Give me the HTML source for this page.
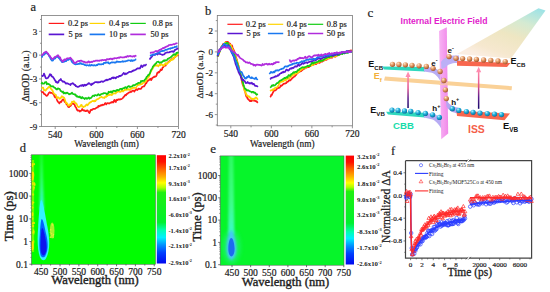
<!DOCTYPE html>
<html><head><meta charset="utf-8"><style>html,body{margin:0;padding:0;background:#fff;width:550px;height:292px;overflow:hidden}svg{display:block}</style></head><body>
<svg width="550" height="292" viewBox="0 0 550 292">
<defs>
<radialGradient id="ballO" cx="0.35" cy="0.3" r="0.75"><stop offset="0" stop-color="#fde6cc"/><stop offset="0.45" stop-color="#e59a66"/><stop offset="1" stop-color="#9c5026"/></radialGradient>
<radialGradient id="ballC" cx="0.35" cy="0.3" r="0.75"><stop offset="0" stop-color="#b8f0ff"/><stop offset="0.45" stop-color="#1fb0dc"/><stop offset="1" stop-color="#0a6a96"/></radialGradient>
<linearGradient id="arrowG" x1="0" y1="1" x2="0" y2="0"><stop offset="0" stop-color="#160a6a"/><stop offset="0.3" stop-color="#5a1c8c"/><stop offset="0.6" stop-color="#e0508e"/><stop offset="1" stop-color="#ff88a6"/></linearGradient>
<linearGradient id="beamG" x1="0.97" y1="0" x2="0.35" y2="1"><stop offset="0" stop-color="#98e2e8"/><stop offset="0.3" stop-color="#d4ead2"/><stop offset="0.55" stop-color="#eee6c2"/><stop offset="0.85" stop-color="#f6e8cf"/><stop offset="1" stop-color="#fbeee2"/></linearGradient>
<linearGradient id="planeG" x1="0" y1="0" x2="1" y2="0"><stop offset="0" stop-color="#f6aef2"/><stop offset="0.5" stop-color="#f496ee"/><stop offset="1" stop-color="#ee7ee6"/></linearGradient>
<linearGradient id="cbarD" x1="0" y1="0" x2="0" y2="1">
 <stop offset="0" stop-color="#ff0000"/><stop offset="0.06" stop-color="#ff1000"/><stop offset="0.14" stop-color="#ff7000"/><stop offset="0.2" stop-color="#ffb000"/><stop offset="0.255" stop-color="#ffff00"/><stop offset="0.3" stop-color="#b0ff00"/><stop offset="0.345" stop-color="#20f010"/><stop offset="0.62" stop-color="#00f030"/><stop offset="0.69" stop-color="#00ffb0"/><stop offset="0.76" stop-color="#00f0ff"/><stop offset="0.83" stop-color="#0090ff"/><stop offset="0.9" stop-color="#0040ff"/><stop offset="1" stop-color="#0008f0"/></linearGradient>
<linearGradient id="cbarE" x1="0" y1="0" x2="0" y2="1">
 <stop offset="0" stop-color="#ff0000"/><stop offset="0.06" stop-color="#ff1000"/><stop offset="0.12" stop-color="#ff6000"/><stop offset="0.19" stop-color="#ffb000"/><stop offset="0.25" stop-color="#ffff00"/><stop offset="0.29" stop-color="#b0ff00"/><stop offset="0.33" stop-color="#20f010"/><stop offset="0.62" stop-color="#00f030"/><stop offset="0.7" stop-color="#00ffb0"/><stop offset="0.76" stop-color="#00f0ff"/><stop offset="0.83" stop-color="#0090ff"/><stop offset="0.9" stop-color="#0040ff"/><stop offset="1" stop-color="#0008f0"/></linearGradient>
<linearGradient id="streakD" x1="0" y1="0" x2="0" y2="1"><stop offset="0" stop-color="#60ffa0" stop-opacity="0.35"/><stop offset="0.5" stop-color="#50ffc0" stop-opacity="0.6"/><stop offset="1" stop-color="#30f0f0" stop-opacity="1"/></linearGradient>
<linearGradient id="streakE" x1="0" y1="0" x2="0" y2="1"><stop offset="0" stop-color="#50ff90" stop-opacity="0.55"/><stop offset="0.6" stop-color="#50ffa8" stop-opacity="0.75"/><stop offset="1" stop-color="#40f8d8" stop-opacity="0.95"/></linearGradient>
<filter id="blur05" x="-50%" y="-50%" width="200%" height="200%"><feGaussianBlur stdDeviation="0.6"/></filter>
<filter id="blur1" x="-50%" y="-50%" width="200%" height="200%"><feGaussianBlur stdDeviation="1.2"/></filter>
<filter id="blur2" x="-50%" y="-50%" width="200%" height="200%"><feGaussianBlur stdDeviation="2"/></filter>
<filter id="blurB" x="-50%" y="-50%" width="200%" height="200%"><feGaussianBlur stdDeviation="3"/></filter>
</defs>
<rect width="550" height="292" fill="#fff"/>
<rect x="41.5" y="15.5" width="137.0" height="111.0" fill="none" stroke="#7a7a7a" stroke-width="0.8"/>
<line x1="55.20" y1="126.5" x2="55.20" y2="129.0" stroke="#7a7a7a" stroke-width="0.8"/>
<text x="55.2" y="137.8" font-size="9.5" text-anchor="middle" font-weight="normal" fill="#222" font-family='"Liberation Serif", serif'  stroke="#222" stroke-width="0.2">540</text>
<line x1="96.30" y1="126.5" x2="96.30" y2="129.0" stroke="#7a7a7a" stroke-width="0.8"/>
<text x="96.3" y="137.8" font-size="9.5" text-anchor="middle" font-weight="normal" fill="#222" font-family='"Liberation Serif", serif'  stroke="#222" stroke-width="0.2">600</text>
<line x1="137.40" y1="126.5" x2="137.40" y2="129.0" stroke="#7a7a7a" stroke-width="0.8"/>
<text x="137.4" y="137.8" font-size="9.5" text-anchor="middle" font-weight="normal" fill="#222" font-family='"Liberation Serif", serif'  stroke="#222" stroke-width="0.2">660</text>
<line x1="178.50" y1="126.5" x2="178.50" y2="129.0" stroke="#7a7a7a" stroke-width="0.8"/>
<text x="178.5" y="137.8" font-size="9.5" text-anchor="middle" font-weight="normal" fill="#222" font-family='"Liberation Serif", serif'  stroke="#222" stroke-width="0.2">720</text>
<line x1="75.75" y1="126.5" x2="75.75" y2="128.0" stroke="#7a7a7a" stroke-width="0.8"/>
<line x1="116.85" y1="126.5" x2="116.85" y2="128.0" stroke="#7a7a7a" stroke-width="0.8"/>
<line x1="157.95" y1="126.5" x2="157.95" y2="128.0" stroke="#7a7a7a" stroke-width="0.8"/>
<line x1="39.0" y1="31.36" x2="41.5" y2="31.36" stroke="#7a7a7a" stroke-width="0.8"/>
<text x="37.2" y="34.56" font-size="9" text-anchor="end" font-weight="normal" fill="#222" font-family='"Liberation Serif", serif'  stroke="#222" stroke-width="0.2">3</text>
<line x1="39.0" y1="55.14" x2="41.5" y2="55.14" stroke="#7a7a7a" stroke-width="0.8"/>
<text x="37.2" y="58.34" font-size="9" text-anchor="end" font-weight="normal" fill="#222" font-family='"Liberation Serif", serif'  stroke="#222" stroke-width="0.2">0</text>
<line x1="39.0" y1="78.93" x2="41.5" y2="78.93" stroke="#7a7a7a" stroke-width="0.8"/>
<text x="37.2" y="82.13" font-size="9" text-anchor="end" font-weight="normal" fill="#222" font-family='"Liberation Serif", serif'  stroke="#222" stroke-width="0.2">-3</text>
<line x1="39.0" y1="102.71" x2="41.5" y2="102.71" stroke="#7a7a7a" stroke-width="0.8"/>
<text x="37.2" y="105.91" font-size="9" text-anchor="end" font-weight="normal" fill="#222" font-family='"Liberation Serif", serif'  stroke="#222" stroke-width="0.2">-6</text>
<line x1="39.0" y1="126.50" x2="41.5" y2="126.50" stroke="#7a7a7a" stroke-width="0.8"/>
<text x="37.2" y="129.7" font-size="9" text-anchor="end" font-weight="normal" fill="#222" font-family='"Liberation Serif", serif'  stroke="#222" stroke-width="0.2">-9</text>
<line x1="40.0" y1="19.46" x2="41.5" y2="19.46" stroke="#7a7a7a" stroke-width="0.8"/>
<line x1="40.0" y1="43.25" x2="41.5" y2="43.25" stroke="#7a7a7a" stroke-width="0.8"/>
<line x1="40.0" y1="67.04" x2="41.5" y2="67.04" stroke="#7a7a7a" stroke-width="0.8"/>
<line x1="40.0" y1="90.82" x2="41.5" y2="90.82" stroke="#7a7a7a" stroke-width="0.8"/>
<line x1="40.0" y1="114.61" x2="41.5" y2="114.61" stroke="#7a7a7a" stroke-width="0.8"/>
<text x="106.5" y="147.2" font-size="9.3" text-anchor="middle" font-weight="normal" fill="#222" font-family='"Liberation Serif", serif'  stroke="#222" stroke-width="0.2">Wavelength (nm)</text>
<text x="0" y="0" font-size="9.8" text-anchor="middle" font-weight="normal" fill="#222" font-family='"Liberation Serif", serif' transform="translate(28.6,76.2) rotate(-90)" stroke="#222" stroke-width="0.2">&#916;mOD (a.u.)</text>
<text x="33.4" y="10.6" font-size="12.5" text-anchor="middle" font-weight="normal" fill="#222" font-family='"Liberation Serif", serif'  stroke="#222" stroke-width="0.2">a</text>
<line x1="48.7" y1="23.4" x2="64.2" y2="23.4" stroke="#ff1a1a" stroke-width="1.2"/>
<line x1="89.6" y1="23.4" x2="105.1" y2="23.4" stroke="#ffd400" stroke-width="1.2"/>
<line x1="130.3" y1="23.4" x2="145.8" y2="23.4" stroke="#12cc12" stroke-width="1.2"/>
<line x1="48.7" y1="34.4" x2="64.2" y2="34.4" stroke="#5a16d2" stroke-width="1.7"/>
<line x1="89.6" y1="34.4" x2="105.1" y2="34.4" stroke="#1a78f0" stroke-width="1.7"/>
<line x1="130.3" y1="34.4" x2="145.8" y2="34.4" stroke="#b02cdc" stroke-width="1.7"/>
<text x="68" y="26.3" font-size="8.4" text-anchor="start" font-weight="normal" fill="#222" font-family='"Liberation Serif", serif'  stroke="#222" stroke-width="0.2">0.2 ps</text>
<text x="109" y="26.3" font-size="8.4" text-anchor="start" font-weight="normal" fill="#222" font-family='"Liberation Serif", serif'  stroke="#222" stroke-width="0.2">0.4 ps</text>
<text x="152.5" y="26.3" font-size="8.4" text-anchor="start" font-weight="normal" fill="#222" font-family='"Liberation Serif", serif'  stroke="#222" stroke-width="0.2">0.8 ps</text>
<text x="68.5" y="37.3" font-size="8.4" text-anchor="start" font-weight="normal" fill="#222" font-family='"Liberation Serif", serif'  stroke="#222" stroke-width="0.2">5 ps</text>
<text x="109" y="37.3" font-size="8.4" text-anchor="start" font-weight="normal" fill="#222" font-family='"Liberation Serif", serif'  stroke="#222" stroke-width="0.2">10 ps</text>
<text x="150.5" y="37.3" font-size="8.4" text-anchor="start" font-weight="normal" fill="#222" font-family='"Liberation Serif", serif'  stroke="#222" stroke-width="0.2">50 ps</text>
<path d="M41.40,91.27 L42.00,92.08 L42.60,92.27 L43.20,92.19 L43.80,93.69 L44.40,94.09 L45.00,94.13 L45.60,95.05 L46.20,95.53 L46.80,95.92 L47.40,95.26 L48.00,94.58 L48.60,93.25 L49.20,92.60 L49.80,92.17 L50.40,92.86 L51.00,92.87 L51.60,92.83 L52.20,92.97 L52.80,93.61 L53.40,94.15 L54.00,94.92 L54.60,96.70 L55.20,97.34 L55.80,96.48 L56.40,97.85 L57.00,99.99 L57.60,101.29 L58.20,102.12 L58.80,102.61 L59.40,103.44 L60.00,102.09 L60.60,101.62 L61.20,102.07 L61.80,100.85 L62.40,99.81 L63.00,99.30 L63.60,99.51 L64.20,101.05 L64.80,101.91 L65.40,102.20 L66.00,103.34 L66.60,104.41 L67.20,104.87 L67.80,105.99 L68.40,106.94 L69.00,107.15 L69.60,106.31 L70.20,106.19 L70.80,105.68 L71.40,104.51 L72.00,103.25 L72.60,103.67 L73.20,103.55 L73.80,104.12 L74.40,103.87 L75.00,105.96 L75.60,106.94 L76.20,107.67 L76.80,109.44 L77.40,110.42 L78.00,110.74 L78.60,110.39 L79.20,110.63 L79.80,111.53 L80.40,110.94 L81.00,110.82 L81.60,110.44 L82.20,108.98 L82.80,109.75 L83.40,110.64 L84.00,110.23 L84.60,110.30 L85.20,111.19 L85.80,111.05 L86.40,111.07 L87.00,110.35 L87.60,110.34 L88.20,111.47 L88.80,112.16 L89.40,113.04 L90.00,111.86 L90.60,110.08 L91.20,109.53 L91.80,110.03 L92.40,109.77 L93.00,108.89 L93.60,108.89 L94.20,108.96 L94.80,108.83 L95.40,108.74 L96.00,108.18 L96.60,107.66 L97.20,107.43 L97.80,107.49 L98.40,105.89 L99.00,106.40 L99.60,106.26 L100.20,105.35 L100.80,105.63 L101.40,105.12 L102.00,105.33 L102.60,104.71 L103.20,104.75 L103.80,104.91 L104.40,104.27 L105.00,103.32 L105.60,103.09 L106.20,104.40 L106.80,103.60 L107.40,103.07 L108.00,103.30 L108.60,103.22 L109.20,103.53 L109.80,103.11 L110.40,102.82 L111.00,102.44 L111.60,102.56 L112.20,101.84 L112.80,102.40 L113.40,102.45 L114.00,100.59 L114.60,99.85 L115.20,101.34 L115.80,102.07 L116.40,100.17 L117.00,99.61 L117.60,100.16 L118.20,99.42 L118.80,99.26 L119.40,99.35 L120.00,99.60 L120.60,99.16 L121.20,99.23 L121.80,98.87 L122.40,98.40 L123.00,97.82 L123.60,96.95 L124.20,96.55 L124.80,95.36 L125.40,94.83 L126.00,95.29 L126.60,94.24 L127.20,93.76 L127.80,93.58 L128.40,92.81 L129.00,92.50 L129.60,92.48 L130.20,92.02 L130.80,91.32 L131.40,91.90 L132.00,91.18 L132.60,90.65 L133.20,90.60 L133.80,90.96 L134.40,91.62 L135.00,90.38 L135.60,90.21 L136.20,89.10 L136.80,89.76 L137.40,90.05 L138.00,89.21 L138.60,88.67 L139.20,88.83 L139.80,88.87 L140.40,88.75 L141.00,88.93 L141.60,87.77 L142.20,86.90 L142.80,86.76 L143.40,86.56 L144.00,86.35 L144.60,85.63 L145.20,84.63 L145.80,83.09 L146.40,83.15 L147.00,81.75 L147.60,80.60 L148.20,80.68 L148.80,80.27 L149.40,79.59 L150.00,79.04 L150.60,78.70 L151.20,80.19 L151.80,79.18 L152.40,77.67 L153.00,77.44 L153.60,77.46 L154.20,76.60 L154.80,76.96 L155.40,76.41 L156.00,76.44 L156.60,75.33 L157.20,72.92 L157.80,73.01 L158.40,72.01 L159.00,72.42 L159.60,71.54 L160.20,70.71 L160.80,69.50 L161.40,70.17 L162.00,69.65 L162.60,67.61 L163.20,67.30 L163.80,66.39 L164.40,65.87 L165.00,65.04 L165.60,65.63 L166.20,63.97 L166.80,63.49 L167.40,63.26 L168.00,62.28 L168.60,61.82 L169.20,61.24 L169.80,60.80 L170.40,59.88 L171.00,59.66 L171.60,59.34 L172.20,58.87 L172.80,58.62 L173.40,58.19 L174.00,58.17 L174.60,57.34 L175.20,56.85 L175.80,56.20 L176.40,55.73 L177.00,55.15 L177.60,55.41 L178.20,54.46" fill="none" stroke="#ff1a1a" stroke-width="1.7" stroke-linejoin="round" opacity="1"/>
<path d="M41.40,87.54 L42.00,87.62 L42.60,87.79 L43.20,87.63 L43.80,89.97 L44.40,90.33 L45.00,90.01 L45.60,90.60 L46.20,89.74 L46.80,88.79 L47.40,88.72 L48.00,87.80 L48.60,87.22 L49.20,86.75 L49.80,87.30 L50.40,87.99 L51.00,88.91 L51.60,89.23 L52.20,90.35 L52.80,91.11 L53.40,92.85 L54.00,93.53 L54.60,94.14 L55.20,94.64 L55.80,94.70 L56.40,96.65 L57.00,98.12 L57.60,97.34 L58.20,97.24 L58.80,97.61 L59.40,98.79 L60.00,98.65 L60.60,98.22 L61.20,97.27 L61.80,96.16 L62.40,96.43 L63.00,96.89 L63.60,97.73 L64.20,97.71 L64.80,99.31 L65.40,101.28 L66.00,103.26 L66.60,102.98 L67.20,103.42 L67.80,104.67 L68.40,105.72 L69.00,105.23 L69.60,105.36 L70.20,103.99 L70.80,104.39 L71.40,103.59 L72.00,101.66 L72.60,101.79 L73.20,102.00 L73.80,101.23 L74.40,101.56 L75.00,103.12 L75.60,103.08 L76.20,103.47 L76.80,104.32 L77.40,105.93 L78.00,106.67 L78.60,107.18 L79.20,107.03 L79.80,106.96 L80.40,105.81 L81.00,105.00 L81.60,104.84 L82.20,106.61 L82.80,106.68 L83.40,107.22 L84.00,106.59 L84.60,106.26 L85.20,106.31 L85.80,105.58 L86.40,104.50 L87.00,104.41 L87.60,105.24 L88.20,104.36 L88.80,103.71 L89.40,102.86 L90.00,102.30 L90.60,102.53 L91.20,101.83 L91.80,101.25 L92.40,101.22 L93.00,100.81 L93.60,101.21 L94.20,101.41 L94.80,100.54 L95.40,101.08 L96.00,100.01 L96.60,99.79 L97.20,99.11 L97.80,99.04 L98.40,98.89 L99.00,98.32 L99.60,97.81 L100.20,97.51 L100.80,97.16 L101.40,96.71 L102.00,97.19 L102.60,97.55 L103.20,97.67 L103.80,97.61 L104.40,98.09 L105.00,96.89 L105.60,96.31 L106.20,96.92 L106.80,95.68 L107.40,96.00 L108.00,95.17 L108.60,95.19 L109.20,94.24 L109.80,95.16 L110.40,94.63 L111.00,94.18 L111.60,95.18 L112.20,94.71 L112.80,93.93 L113.40,93.31 L114.00,93.37 L114.60,93.29 L115.20,93.56 L115.80,93.34 L116.40,92.39 L117.00,92.10 L117.60,91.83 L118.20,91.30 L118.80,91.46 L119.40,91.68 L120.00,92.01 L120.60,91.98 L121.20,90.88 L121.80,91.04 L122.40,90.74 L123.00,91.50 L123.60,90.60 L124.20,90.40 L124.80,89.63 L125.40,89.56 L126.00,89.95 L126.60,89.74 L127.20,89.76 L127.80,88.99 L128.40,89.60 L129.00,89.16 L129.60,89.97 L130.20,89.20 L130.80,89.25 L131.40,88.14 L132.00,88.50 L132.60,87.89 L133.20,87.85 L133.80,87.96 L134.40,87.73 L135.00,87.89 L135.60,87.80 L136.20,87.33 L136.80,86.40 L137.40,85.32 L138.00,85.15 L138.60,84.92 L139.20,83.91 L139.80,84.73 L140.40,84.23 L141.00,83.95 L141.60,84.24 L142.20,83.88 L142.80,83.18 L143.40,82.33 L144.00,82.59 L144.60,82.12 L145.20,81.09 L145.80,81.31 L146.40,80.36 L147.00,78.64 L147.60,78.40 L148.20,76.98 L148.80,76.85 L149.40,75.53 L150.00,73.31 L150.60,72.05 L151.20,71.15 L151.80,69.87 L152.40,69.26 L153.00,67.93 L153.60,66.80 L154.20,66.24 L154.80,64.63 L155.40,65.43 L156.00,65.87 L156.60,65.32 L157.20,65.07 L157.80,65.84 L158.40,66.44 L159.00,65.37 L159.60,64.61 L160.20,65.28 L160.80,63.94 L161.40,64.64 L162.00,64.66 L162.60,65.29 L163.20,64.92 L163.80,65.90 L164.40,65.44 L165.00,63.79 L165.60,63.17 L166.20,63.75 L166.80,64.20 L167.40,63.32 L168.00,62.61 L168.60,62.05 L169.20,61.98 L169.80,61.38 L170.40,60.64 L171.00,59.70 L171.60,60.21 L172.20,59.76 L172.80,58.34 L173.40,59.31 L174.00,58.31 L174.60,56.89 L175.20,55.86 L175.80,56.59 L176.40,56.25 L177.00,55.06 L177.60,54.18 L178.20,55.01" fill="none" stroke="#ffd400" stroke-width="1.7" stroke-linejoin="round" opacity="1"/>
<path d="M41.40,84.13 L42.00,82.56 L42.60,83.59 L43.20,83.58 L43.80,83.72 L44.40,83.45 L45.00,82.21 L45.60,82.25 L46.20,82.00 L46.80,84.26 L47.40,83.72 L48.00,83.72 L48.60,84.15 L49.20,84.38 L49.80,84.67 L50.40,85.50 L51.00,86.37 L51.60,86.23 L52.20,86.62 L52.80,86.21 L53.40,86.35 L54.00,87.40 L54.60,87.73 L55.20,87.92 L55.80,88.81 L56.40,89.19 L57.00,89.57 L57.60,88.48 L58.20,88.24 L58.80,88.87 L59.40,88.74 L60.00,89.56 L60.60,90.76 L61.20,91.29 L61.80,91.68 L62.40,92.14 L63.00,91.49 L63.60,93.40 L64.20,93.11 L64.80,92.60 L65.40,93.37 L66.00,93.51 L66.60,92.77 L67.20,92.55 L67.80,93.17 L68.40,93.55 L69.00,94.34 L69.60,94.21 L70.20,93.81 L70.80,93.91 L71.40,93.13 L72.00,92.64 L72.60,93.55 L73.20,94.07 L73.80,94.07 L74.40,94.27 L75.00,94.87 L75.60,94.42 L76.20,96.12 L76.80,96.57 L77.40,96.13 L78.00,96.92 L78.60,96.89 L79.20,97.46 L79.80,96.51 L80.40,97.05 L81.00,98.13 L81.60,98.29 L82.20,97.00 L82.80,97.66 L83.40,98.25 L84.00,98.22 L84.60,99.02 L85.20,98.10 L85.80,98.36 L86.40,98.04 L87.00,98.89 L87.60,98.36 L88.20,97.84 L88.80,97.44 L89.40,98.77 L90.00,98.37 L90.60,98.02 L91.20,97.82 L91.80,97.07 L92.40,96.19 L93.00,95.71 L93.60,95.62 L94.20,96.19 L94.80,95.03 L95.40,95.09 L96.00,95.28 L96.60,95.53 L97.20,95.47 L97.80,94.47 L98.40,94.14 L99.00,94.87 L99.60,95.39 L100.20,95.03 L100.80,94.45 L101.40,93.99 L102.00,93.97 L102.60,93.67 L103.20,93.77 L103.80,93.09 L104.40,93.25 L105.00,93.19 L105.60,93.35 L106.20,93.41 L106.80,94.30 L107.40,93.93 L108.00,93.35 L108.60,91.70 L109.20,92.04 L109.80,92.12 L110.40,92.26 L111.00,91.28 L111.60,92.57 L112.20,92.54 L112.80,91.17 L113.40,90.80 L114.00,90.71 L114.60,90.90 L115.20,91.13 L115.80,91.35 L116.40,90.20 L117.00,90.07 L117.60,89.94 L118.20,90.45 L118.80,90.09 L119.40,89.93 L120.00,88.78 L120.60,88.79 L121.20,88.72 L121.80,89.59 L122.40,89.10 L123.00,88.32 L123.60,88.04 L124.20,88.15 L124.80,87.43 L125.40,87.13 L126.00,87.80 L126.60,88.47 L127.20,87.21 L127.80,86.60 L128.40,86.13 L129.00,86.07 L129.60,86.88 L130.20,87.02 L130.80,86.54 L131.40,86.44 L132.00,86.23 L132.60,85.90 L133.20,85.05 L133.80,85.31 L134.40,85.47 L135.00,84.98 L135.60,84.55 L136.20,84.02 L136.80,83.90 L137.40,83.96 L138.00,83.05 L138.60,82.83 L139.20,83.02 L139.80,82.86 L140.40,82.67 L141.00,80.94 L141.60,81.54 L142.20,80.93 L142.80,80.85 L143.40,80.97 L144.00,80.83 L144.60,80.15 L145.20,79.13 L145.80,78.81 L146.40,77.32 L147.00,76.55 L147.60,76.07 L148.20,74.91 L148.80,75.08 L149.40,74.04 L150.00,73.36 L150.60,71.37 L151.20,69.79 L151.80,68.86 L152.40,67.83 L153.00,66.34 L153.60,65.85 L154.20,65.14 L154.80,64.88 L155.40,63.58 L156.00,63.58 L156.60,62.48 L157.20,61.76 L157.80,61.73 L158.40,61.66 L159.00,62.36 L159.60,62.84 L160.20,62.40 L160.80,62.46 L161.40,62.68 L162.00,61.92 L162.60,61.54 L163.20,61.00 L163.80,60.38 L164.40,60.98 L165.00,60.09 L165.60,60.58 L166.20,60.27 L166.80,60.28 L167.40,59.38 L168.00,58.66 L168.60,58.71 L169.20,58.04 L169.80,57.75 L170.40,57.48 L171.00,57.00 L171.60,56.49 L172.20,55.83 L172.80,55.47 L173.40,54.38 L174.00,54.66 L174.60,54.23 L175.20,54.90 L175.80,54.51 L176.40,52.79 L177.00,53.08 L177.60,52.70 L178.20,51.96" fill="none" stroke="#12cc12" stroke-width="1.7" stroke-linejoin="round" opacity="1"/>
<path d="M41.60,75.96 L42.20,75.82 L42.80,76.16 L43.40,75.11 L44.00,73.55 L44.60,75.20 L45.20,76.63 L45.80,78.25 L46.40,78.40 L47.00,78.36 L47.60,77.93 L48.20,77.69 L48.80,76.48 L49.40,75.47 L50.00,74.14 L50.60,75.33 L51.20,74.76 L51.80,76.41 L52.40,76.72 L53.00,77.09 L53.60,77.90 L54.20,78.79 L54.80,80.03 L55.40,80.86 L56.00,82.04 L56.60,81.57 L57.20,82.82 L57.80,82.73 L58.40,82.33 L59.00,80.46 L59.60,80.26 L60.20,79.72 L60.80,79.02 L61.40,80.41 L62.00,80.80 L62.60,81.56 L63.20,81.87 L63.80,81.37 L64.40,81.76 L65.00,82.54 L65.60,83.37 L66.20,83.65 L66.80,83.20 L67.40,83.36 L68.00,83.59 L68.60,84.01 L69.20,84.21 L69.80,84.38 L70.40,85.05 L71.00,83.90 L71.60,83.67 L72.20,83.77 L72.80,83.07 L73.40,83.60 L74.00,84.38 L74.60,85.03 L75.20,84.82 L75.80,86.19 L76.40,86.14 L77.00,86.73 L77.60,86.94 L78.20,86.80 L78.80,86.73 L79.40,86.15 L80.00,85.84 L80.60,85.74 L81.20,85.26 L81.80,85.90 L82.40,85.00 L83.00,84.80 L83.60,86.03 L84.20,85.09 L84.80,84.57 L85.40,85.63 L86.00,84.94 L86.60,85.10 L87.20,84.29 L87.80,84.14 L88.40,83.38 L89.00,83.13 L89.60,83.56 L90.20,84.09 L90.80,84.68 L91.40,85.10 L92.00,83.69 L92.60,84.05 L93.20,83.42 L93.80,83.22 L94.40,82.43 L95.00,82.16 L95.60,82.25 L96.20,82.03 L96.80,82.29 L97.40,82.07 L98.00,82.63 L98.60,82.11 L99.20,82.01 L99.80,82.33 L100.40,81.98 L101.00,81.55 L101.60,81.37 L102.20,81.38 L102.80,81.84 L103.40,81.63 L104.00,81.24 L104.60,81.06 L105.20,80.36 L105.80,80.33 L106.40,79.58 L107.00,80.39 L107.60,79.87 L108.20,79.63 L108.80,79.59 L109.40,79.11 L110.00,78.88 L110.60,79.26 L111.20,78.58 L111.80,77.91 L112.40,78.04 L113.00,77.28 L113.60,78.30 L114.20,77.57 L114.80,77.51 L115.40,78.39 L116.00,78.15 L116.60,76.99 L117.20,76.87 L117.80,77.02 L118.40,76.98 L119.00,75.99 L119.60,75.85 L120.20,76.12 L120.80,75.63 L121.40,75.56 L122.00,75.15 L122.60,74.10 L123.20,73.66 L123.80,72.86 L124.40,73.79 L125.00,74.36 L125.60,73.37 L126.20,74.02 L126.80,73.81 L127.40,73.05 L128.00,72.75 L128.60,72.47 L129.20,71.86 L129.80,71.84 L130.40,71.85 L131.00,71.98 L131.60,71.73 L132.20,70.93 L132.80,71.12 L133.40,70.33 L134.00,70.27 L134.60,70.32 L135.20,69.91 L135.80,69.56 L136.40,69.36 L137.00,68.69 L137.60,68.30 L138.20,68.33 L138.80,68.54 L139.40,68.05 L140.00,68.45 L140.60,67.19 L141.20,65.42 L141.80,66.25 L142.40,67.07 L143.00,66.13 L143.60,65.39 L144.20,65.06 L144.80,65.69 L145.40,65.35 L146.00,64.75 L146.60,64.18" fill="none" stroke="#5a16d2" stroke-width="1.7" stroke-linejoin="round" opacity="1"/>
<path d="M149.60,59.62 L150.20,58.47 L150.80,57.86 L151.40,57.24 L152.00,56.54 L152.60,55.58 L153.20,54.66 L153.80,54.29 L154.40,54.79 L155.00,55.02 L155.60,54.41 L156.20,53.71 L156.80,53.79 L157.40,54.51 L158.00,53.98 L158.60,53.42 L159.20,53.91 L159.80,53.83 L160.40,54.08 L161.00,54.29 L161.60,54.46 L162.20,54.98 L162.80,54.95 L163.40,54.49 L164.00,54.44 L164.60,54.08 L165.20,52.96 L165.80,52.81 L166.40,52.60 L167.00,52.62 L167.60,52.26 L168.20,52.51 L168.80,52.44 L169.40,52.16 L170.00,51.81 L170.60,51.80 L171.20,51.46 L171.80,51.31 L172.40,51.62 L173.00,51.32 L173.60,51.81 L174.20,51.19 L174.80,49.95 L175.40,50.01 L176.00,49.36 L176.60,49.23 L177.20,48.74 L177.80,47.75" fill="none" stroke="#5a16d2" stroke-width="1.7" stroke-linejoin="round" opacity="1"/>
<path d="M41.50,57.50 L42.10,56.87 L42.70,54.95 L43.30,54.92 L43.90,54.89 L44.50,54.41 L45.10,53.61 L45.70,53.13 L46.30,52.39 L46.90,53.20 L47.50,53.83 L48.10,54.22 L48.70,55.14 L49.30,56.35 L49.90,57.08 L50.50,58.49 L51.10,59.51 L51.70,60.39 L52.30,60.73 L52.90,60.48 L53.50,59.35 L54.10,58.84 L54.70,58.74 L55.30,58.30 L55.90,57.21 L56.50,56.75 L57.10,56.94 L57.70,56.39 L58.30,57.51 L58.90,58.13 L59.50,58.78 L60.10,59.54 L60.70,60.44 L61.30,60.97 L61.90,61.95 L62.50,62.26 L63.10,62.06 L63.70,61.70 L64.30,61.74 L64.90,61.25 L65.50,60.78 L66.10,61.22 L66.70,60.30 L67.30,59.92 L67.90,59.90 L68.50,59.94 L69.10,59.12 L69.70,58.90 L70.30,58.92 L70.90,59.38 L71.50,60.96 L72.10,62.00 L72.70,62.48 L73.30,63.24 L73.90,63.62 L74.50,63.95 L75.10,64.28 L75.70,64.49 L76.30,64.10 L76.90,64.19 L77.50,64.27 L78.10,63.91 L78.70,63.93 L79.30,63.93 L79.90,63.05 L80.50,63.51 L81.10,63.13 L81.70,63.95 L82.30,64.21 L82.90,64.11 L83.50,64.16 L84.10,64.67 L84.70,64.88 L85.30,65.18 L85.90,65.19 L86.50,65.53 L87.10,65.13 L87.70,65.25 L88.30,65.38 L88.90,65.74 L89.50,64.96 L90.10,65.24 L90.70,65.73 L91.30,65.15 L91.90,64.91 L92.50,65.34 L93.10,65.32 L93.70,65.53 L94.30,65.07 L94.90,65.35 L95.50,65.54 L96.10,65.43 L96.70,64.79 L97.30,65.23 L97.90,64.46 L98.50,64.00 L99.10,64.13 L99.70,64.41 L100.30,64.28 L100.90,64.41 L101.50,64.36 L102.10,64.15 L102.70,63.98 L103.30,64.26 L103.90,62.93 L104.50,62.78 L105.10,63.09 L105.70,62.74 L106.30,62.29 L106.90,62.74 L107.50,62.68 L108.10,62.27 L108.70,63.26 L109.30,63.58 L109.90,63.38 L110.50,62.74 L111.10,62.67 L111.70,62.30 L112.30,62.53 L112.90,62.33 L113.50,62.51 L114.10,62.36 L114.70,62.70 L115.30,62.68 L115.90,62.52 L116.50,61.47 L117.10,61.27 L117.70,61.88 L118.30,61.70 L118.90,61.89 L119.50,61.84 L120.10,61.77 L120.70,61.92 L121.30,61.77 L121.90,61.53 L122.50,61.17 L123.10,61.79 L123.70,61.42 L124.30,61.51 L124.90,61.31 L125.50,61.43 L126.10,61.06 L126.70,60.94 L127.30,60.80 L127.90,60.45 L128.50,60.41 L129.10,60.51 L129.70,60.44 L130.30,60.33 L130.90,61.13 L131.50,60.20 L132.10,60.34 L132.70,61.07 L133.30,60.24 L133.90,60.44 L134.50,60.39 L135.10,59.93 L135.70,59.37 L136.30,59.30" fill="none" stroke="#1a78f0" stroke-width="1.7" stroke-linejoin="round" opacity="1"/>
<path d="M149.90,55.82 L150.50,55.69 L151.10,55.34 L151.70,54.98 L152.30,54.86 L152.90,54.62 L153.50,54.79 L154.10,54.92 L154.70,54.31 L155.30,53.99 L155.90,54.04 L156.50,53.82 L157.10,53.44 L157.70,52.95 L158.30,52.95 L158.90,52.84 L159.50,52.13 L160.10,51.93 L160.70,51.38 L161.30,51.19 L161.90,50.95 L162.50,51.09 L163.10,50.78 L163.70,50.93 L164.30,50.76 L164.90,50.30 L165.50,49.54 L166.10,49.77 L166.70,49.82 L167.30,49.58 L167.90,48.98 L168.50,48.94 L169.10,48.66 L169.70,48.57 L170.30,48.78 L170.90,48.21 L171.50,48.17 L172.10,48.21 L172.70,47.70 L173.30,47.57 L173.90,47.48 L174.50,47.22 L175.10,46.75 L175.70,46.93 L176.30,47.01 L176.90,46.23 L177.50,46.50" fill="none" stroke="#1a78f0" stroke-width="1.7" stroke-linejoin="round" opacity="1"/>
<path d="M41.50,55.69 L42.10,55.01 L42.70,54.42 L43.30,53.93 L43.90,52.79 L44.50,52.64 L45.10,51.98 L45.70,51.89 L46.30,51.64 L46.90,52.56 L47.50,53.12 L48.10,53.66 L48.70,54.77 L49.30,55.71 L49.90,55.90 L50.50,56.94 L51.10,57.73 L51.70,58.83 L52.30,58.99 L52.90,58.63 L53.50,58.47 L54.10,57.92 L54.70,56.97 L55.30,57.07 L55.90,56.61 L56.50,56.12 L57.10,55.74 L57.70,55.30 L58.30,55.41 L58.90,56.99 L59.50,57.04 L60.10,57.27 L60.70,58.78 L61.30,60.07 L61.90,60.38 L62.50,61.70 L63.10,61.55 L63.70,60.28 L64.30,59.33 L64.90,59.52 L65.50,60.01 L66.10,59.14 L66.70,58.46 L67.30,58.27 L67.90,58.45 L68.50,58.31 L69.10,58.33 L69.70,57.99 L70.30,57.60 L70.90,58.38 L71.50,58.92 L72.10,59.90 L72.70,60.29 L73.30,61.16 L73.90,62.89 L74.50,62.71 L75.10,62.69 L75.70,63.05 L76.30,62.30 L76.90,61.65 L77.50,61.36 L78.10,61.01 L78.70,61.27 L79.30,60.85 L79.90,61.10 L80.50,60.63 L81.10,60.63 L81.70,60.86 L82.30,61.35 L82.90,61.54 L83.50,61.94 L84.10,61.59 L84.70,62.04 L85.30,62.68 L85.90,62.27 L86.50,62.43 L87.10,62.71 L87.70,62.28 L88.30,61.61 L88.90,61.29 L89.50,62.53 L90.10,62.17 L90.70,62.12 L91.30,61.68 L91.90,62.18 L92.50,61.80 L93.10,61.40 L93.70,61.06 L94.30,61.30 L94.90,61.05 L95.50,60.90 L96.10,60.45 L96.70,60.71 L97.30,60.85 L97.90,60.43 L98.50,60.76 L99.10,60.92 L99.70,60.53 L100.30,60.28 L100.90,60.30 L101.50,60.59 L102.10,59.86 L102.70,60.02 L103.30,60.05 L103.90,60.15 L104.50,59.96 L105.10,59.74 L105.70,60.52 L106.30,59.88 L106.90,59.13 L107.50,59.14 L108.10,59.45 L108.70,59.45 L109.30,58.85 L109.90,59.16 L110.50,58.52 L111.10,58.58 L111.70,59.15 L112.30,59.33 L112.90,58.65 L113.50,58.44 L114.10,58.69 L114.70,57.99 L115.30,58.17 L115.90,58.23 L116.50,58.38 L117.10,58.07 L117.70,57.82 L118.30,57.89 L118.90,57.42 L119.50,57.79 L120.10,57.32 L120.70,57.10 L121.30,57.23 L121.90,57.40 L122.50,57.53 L123.10,57.25 L123.70,57.47 L124.30,57.47 L124.90,56.97 L125.50,56.67 L126.10,57.16 L126.70,56.83 L127.30,55.97 L127.90,56.21 L128.50,56.52 L129.10,56.06 L129.70,56.05 L130.30,55.84 L130.90,56.43 L131.50,56.47 L132.10,56.47 L132.70,56.71 L133.30,56.12 L133.90,56.12 L134.50,56.62 L135.10,55.72 L135.70,55.97 L136.30,55.45" fill="none" stroke="#b02cdc" stroke-width="1.7" stroke-linejoin="round" opacity="1"/>
<path d="M149.90,52.89 L150.50,52.85 L151.10,52.35 L151.70,52.75 L152.30,52.76 L152.90,52.23 L153.50,52.20 L154.10,52.00 L154.70,51.61 L155.30,51.20 L155.90,50.88 L156.50,51.52 L157.10,51.31 L157.70,51.60 L158.30,50.95 L158.90,50.34 L159.50,49.87 L160.10,49.97 L160.70,49.39 L161.30,49.44 L161.90,48.74 L162.50,48.39 L163.10,47.88 L163.70,48.41 L164.30,47.65 L164.90,47.25 L165.50,47.22 L166.10,46.67 L166.70,46.68 L167.30,46.09 L167.90,46.12 L168.50,45.49 L169.10,45.00 L169.70,45.00 L170.30,44.71 L170.90,44.95 L171.50,44.78 L172.10,44.72 L172.70,44.46 L173.30,44.20 L173.90,44.20 L174.50,44.30 L175.10,43.84 L175.70,43.45 L176.30,43.26 L176.90,43.29 L177.50,43.09" fill="none" stroke="#b02cdc" stroke-width="1.7" stroke-linejoin="round" opacity="1"/>
<rect x="217.3" y="15.4" width="135.09999999999997" height="110.39999999999999" fill="none" stroke="#7a7a7a" stroke-width="0.8"/>
<line x1="230.81" y1="125.8" x2="230.81" y2="128.3" stroke="#7a7a7a" stroke-width="0.8"/>
<text x="230.81" y="137.1" font-size="9.5" text-anchor="middle" font-weight="normal" fill="#222" font-family='"Liberation Serif", serif'  stroke="#222" stroke-width="0.2">540</text>
<line x1="271.34" y1="125.8" x2="271.34" y2="128.3" stroke="#7a7a7a" stroke-width="0.8"/>
<text x="271.34" y="137.1" font-size="9.5" text-anchor="middle" font-weight="normal" fill="#222" font-family='"Liberation Serif", serif'  stroke="#222" stroke-width="0.2">600</text>
<line x1="311.87" y1="125.8" x2="311.87" y2="128.3" stroke="#7a7a7a" stroke-width="0.8"/>
<text x="311.87" y="137.1" font-size="9.5" text-anchor="middle" font-weight="normal" fill="#222" font-family='"Liberation Serif", serif'  stroke="#222" stroke-width="0.2">660</text>
<line x1="352.40" y1="125.8" x2="352.40" y2="128.3" stroke="#7a7a7a" stroke-width="0.8"/>
<text x="352.4" y="137.1" font-size="9.5" text-anchor="middle" font-weight="normal" fill="#222" font-family='"Liberation Serif", serif'  stroke="#222" stroke-width="0.2">720</text>
<line x1="251.07" y1="125.8" x2="251.07" y2="127.3" stroke="#7a7a7a" stroke-width="0.8"/>
<line x1="291.61" y1="125.8" x2="291.61" y2="127.3" stroke="#7a7a7a" stroke-width="0.8"/>
<line x1="332.13" y1="125.8" x2="332.13" y2="127.3" stroke="#7a7a7a" stroke-width="0.8"/>
<line x1="214.8" y1="31.00" x2="217.3" y2="31.00" stroke="#7a7a7a" stroke-width="0.8"/>
<text x="213" y="34.2" font-size="9" text-anchor="end" font-weight="normal" fill="#222" font-family='"Liberation Serif", serif'  stroke="#222" stroke-width="0.2">2</text>
<line x1="214.8" y1="51.90" x2="217.3" y2="51.90" stroke="#7a7a7a" stroke-width="0.8"/>
<text x="213" y="55.1" font-size="9" text-anchor="end" font-weight="normal" fill="#222" font-family='"Liberation Serif", serif'  stroke="#222" stroke-width="0.2">0</text>
<line x1="214.8" y1="72.80" x2="217.3" y2="72.80" stroke="#7a7a7a" stroke-width="0.8"/>
<text x="213" y="76.0" font-size="9" text-anchor="end" font-weight="normal" fill="#222" font-family='"Liberation Serif", serif'  stroke="#222" stroke-width="0.2">-2</text>
<line x1="214.8" y1="93.70" x2="217.3" y2="93.70" stroke="#7a7a7a" stroke-width="0.8"/>
<text x="213" y="96.9" font-size="9" text-anchor="end" font-weight="normal" fill="#222" font-family='"Liberation Serif", serif'  stroke="#222" stroke-width="0.2">-4</text>
<line x1="214.8" y1="114.60" x2="217.3" y2="114.60" stroke="#7a7a7a" stroke-width="0.8"/>
<text x="213" y="117.8" font-size="9" text-anchor="end" font-weight="normal" fill="#222" font-family='"Liberation Serif", serif'  stroke="#222" stroke-width="0.2">-6</text>
<line x1="215.8" y1="20.55" x2="217.3" y2="20.55" stroke="#7a7a7a" stroke-width="0.8"/>
<line x1="215.8" y1="41.45" x2="217.3" y2="41.45" stroke="#7a7a7a" stroke-width="0.8"/>
<line x1="215.8" y1="62.35" x2="217.3" y2="62.35" stroke="#7a7a7a" stroke-width="0.8"/>
<line x1="215.8" y1="83.25" x2="217.3" y2="83.25" stroke="#7a7a7a" stroke-width="0.8"/>
<line x1="215.8" y1="104.15" x2="217.3" y2="104.15" stroke="#7a7a7a" stroke-width="0.8"/>
<line x1="215.8" y1="125.05" x2="217.3" y2="125.05" stroke="#7a7a7a" stroke-width="0.8"/>
<text x="282.3" y="147.2" font-size="9.3" text-anchor="middle" font-weight="normal" fill="#222" font-family='"Liberation Serif", serif'  stroke="#222" stroke-width="0.2">Wavelength (nm)</text>
<text x="0" y="0" font-size="9.2" text-anchor="middle" font-weight="normal" fill="#222" font-family='"Liberation Serif", serif' transform="translate(203.3,74.4) rotate(-90)" stroke="#222" stroke-width="0.2">&#916;mOD (a.u.)</text>
<text x="208.1" y="14.6" font-size="12.5" text-anchor="middle" font-weight="normal" fill="#222" font-family='"Liberation Serif", serif'  stroke="#222" stroke-width="0.2">b</text>
<line x1="227.4" y1="24.3" x2="242.70000000000002" y2="24.3" stroke="#ff1a1a" stroke-width="1.2"/>
<line x1="267.9" y1="24.3" x2="283.2" y2="24.3" stroke="#ffd400" stroke-width="1.2"/>
<line x1="307.9" y1="24.3" x2="323.2" y2="24.3" stroke="#12cc12" stroke-width="1.2"/>
<line x1="227.4" y1="33.5" x2="242.70000000000002" y2="33.5" stroke="#5a16d2" stroke-width="1.5"/>
<line x1="267.9" y1="33.5" x2="283.2" y2="33.5" stroke="#1a78f0" stroke-width="1.5"/>
<line x1="307.9" y1="33.5" x2="323.2" y2="33.5" stroke="#b02cdc" stroke-width="1.5"/>
<text x="245.8" y="27.2" font-size="8.4" text-anchor="start" font-weight="normal" fill="#222" font-family='"Liberation Serif", serif'  stroke="#222" stroke-width="0.2">0.2 ps</text>
<text x="286.8" y="27.2" font-size="8.4" text-anchor="start" font-weight="normal" fill="#222" font-family='"Liberation Serif", serif'  stroke="#222" stroke-width="0.2">0.4 ps</text>
<text x="326.8" y="27.2" font-size="8.4" text-anchor="start" font-weight="normal" fill="#222" font-family='"Liberation Serif", serif'  stroke="#222" stroke-width="0.2">0.8 ps</text>
<text x="246.5" y="36.4" font-size="8.4" text-anchor="start" font-weight="normal" fill="#222" font-family='"Liberation Serif", serif'  stroke="#222" stroke-width="0.2">5 ps</text>
<text x="286.8" y="36.4" font-size="8.4" text-anchor="start" font-weight="normal" fill="#222" font-family='"Liberation Serif", serif'  stroke="#222" stroke-width="0.2">10 ps</text>
<text x="326.8" y="36.4" font-size="8.4" text-anchor="start" font-weight="normal" fill="#222" font-family='"Liberation Serif", serif'  stroke="#222" stroke-width="0.2">50 ps</text>
<path d="M217.60,56.21 L218.20,55.66 L218.80,54.16 L219.40,51.71 L220.00,50.22 L220.60,48.89 L221.20,48.10 L221.80,46.60 L222.40,45.81 L223.00,44.15 L223.60,45.12 L224.20,44.04 L224.80,43.60 L225.40,42.55 L226.00,41.81 L226.60,41.75 L227.20,41.79 L227.80,41.90 L228.40,42.62 L229.00,43.65 L229.60,43.40 L230.20,43.75 L230.80,45.42 L231.40,45.55 L232.00,45.47 L232.60,47.41 L233.20,49.18 L233.80,50.23 L234.40,51.65 L235.00,54.19 L235.60,56.38 L236.20,57.77 L236.80,59.51 L237.40,62.25 L238.00,64.53 L238.60,66.11 L239.20,68.90 L239.80,72.04 L240.40,74.12 L241.00,76.61 L241.60,80.02 L242.20,82.51 L242.80,84.99 L243.40,85.97 L244.00,88.30 L244.60,90.15 L245.20,91.81 L245.80,94.92 L246.40,96.61 L247.00,96.86 L247.60,98.66 L248.20,99.28 L248.80,99.76 L249.40,100.38 L250.00,101.10 L250.60,100.42 L251.20,101.18 L251.80,100.95 L252.40,99.59 L253.00,100.36 L253.60,100.25 L254.20,100.80 L254.80,100.54 L255.40,101.00 L256.00,101.43 L256.60,101.22 L257.20,102.19 L257.80,102.86" fill="none" stroke="#ff1a1a" stroke-width="1.7" stroke-linejoin="round" opacity="1"/>
<path d="M217.60,56.14 L218.20,55.37 L218.80,53.94 L219.40,52.62 L220.00,51.42 L220.60,48.45 L221.20,46.96 L221.80,45.78 L222.40,46.02 L223.00,46.17 L223.60,45.17 L224.20,44.46 L224.80,42.72 L225.40,42.97 L226.00,42.37 L226.60,43.39 L227.20,43.62 L227.80,43.82 L228.40,43.70 L229.00,44.42 L229.60,44.82 L230.20,44.59 L230.80,45.30 L231.40,46.80 L232.00,47.90 L232.60,49.23 L233.20,50.72 L233.80,52.03 L234.40,53.94 L235.00,54.77 L235.60,57.66 L236.20,58.96 L236.80,60.58 L237.40,62.12 L238.00,64.63 L238.60,66.71 L239.20,69.02 L239.80,70.85 L240.40,73.52 L241.00,76.64 L241.60,78.00 L242.20,79.70 L242.80,83.03 L243.40,85.29 L244.00,88.24 L244.60,90.75 L245.20,91.96 L245.80,93.10 L246.40,94.85 L247.00,95.74 L247.60,95.61 L248.20,96.31 L248.80,96.78 L249.40,96.37 L250.00,97.57 L250.60,98.23 L251.20,98.26 L251.80,98.53 L252.40,98.95 L253.00,99.69 L253.60,98.82 L254.20,98.61 L254.80,98.76 L255.40,97.80 L256.00,97.28 L256.60,97.78 L257.20,98.68 L257.80,99.70" fill="none" stroke="#ffd400" stroke-width="1.7" stroke-linejoin="round" opacity="1"/>
<path d="M217.60,56.74 L218.20,52.94 L218.80,53.20 L219.40,51.85 L220.00,50.89 L220.60,49.17 L221.20,48.52 L221.80,46.94 L222.40,45.94 L223.00,45.97 L223.60,45.36 L224.20,44.29 L224.80,43.82 L225.40,43.87 L226.00,43.27 L226.60,42.79 L227.20,42.95 L227.80,42.96 L228.40,45.13 L229.00,45.05 L229.60,46.08 L230.20,46.63 L230.80,48.69 L231.40,49.75 L232.00,50.36 L232.60,51.87 L233.20,52.07 L233.80,54.04 L234.40,54.48 L235.00,57.16 L235.60,59.55 L236.20,60.84 L236.80,62.09 L237.40,63.60 L238.00,65.82 L238.60,68.79 L239.20,70.78 L239.80,71.96 L240.40,73.50 L241.00,76.35 L241.60,77.43 L242.20,79.61 L242.80,81.73 L243.40,84.48 L244.00,86.31 L244.60,87.79 L245.20,89.00 L245.80,88.95 L246.40,89.90 L247.00,90.62 L247.60,90.12 L248.20,90.44 L248.80,90.41 L249.40,91.19 L250.00,91.34 L250.60,91.59 L251.20,91.76 L251.80,92.53 L252.40,91.75 L253.00,91.76 L253.60,92.06 L254.20,92.92 L254.80,92.59 L255.40,92.89 L256.00,94.10 L256.60,94.77 L257.20,94.31 L257.80,93.89" fill="none" stroke="#12cc12" stroke-width="1.7" stroke-linejoin="round" opacity="1"/>
<path d="M217.60,56.31 L218.20,53.71 L218.80,51.38 L219.40,49.24 L220.00,49.34 L220.60,49.16 L221.20,48.16 L221.80,47.85 L222.40,47.47 L223.00,46.31 L223.60,47.29 L224.20,45.20 L224.80,45.31 L225.40,46.23 L226.00,45.21 L226.60,45.30 L227.20,45.47 L227.80,46.01 L228.40,45.20 L229.00,46.53 L229.60,49.21 L230.20,49.73 L230.80,50.53 L231.40,52.06 L232.00,53.33 L232.60,54.43 L233.20,55.82 L233.80,56.75 L234.40,59.68 L235.00,61.37 L235.60,63.99 L236.20,65.53 L236.80,66.91 L237.40,69.09 L238.00,70.11 L238.60,72.32 L239.20,73.27 L239.80,74.63 L240.40,75.09 L241.00,77.50 L241.60,78.10 L242.20,80.03 L242.80,80.38 L243.40,79.73 L244.00,80.71 L244.60,80.94 L245.20,82.02 L245.80,83.15 L246.40,83.00 L247.00,82.97 L247.60,81.92 L248.20,82.64 L248.80,83.15 L249.40,83.53 L250.00,82.85 L250.60,83.53 L251.20,83.64 L251.80,82.76 L252.40,83.30 L253.00,84.38 L253.60,83.85 L254.20,84.18 L254.80,85.72 L255.40,85.85 L256.00,85.77 L256.60,86.14 L257.20,86.14 L257.80,87.01" fill="none" stroke="#5a16d2" stroke-width="1.7" stroke-linejoin="round" opacity="1"/>
<path d="M217.60,54.97 L218.20,53.82 L218.80,53.15 L219.40,51.45 L220.00,50.58 L220.60,49.21 L221.20,47.12 L221.80,47.10 L222.40,45.74 L223.00,45.98 L223.60,44.27 L224.20,43.68 L224.80,44.27 L225.40,44.69 L226.00,45.20 L226.60,46.06 L227.20,46.11 L227.80,46.86 L228.40,46.55 L229.00,46.40 L229.60,46.49 L230.20,47.59 L230.80,49.82 L231.40,51.52 L232.00,52.84 L232.60,53.18 L233.20,54.74 L233.80,55.84 L234.40,57.23 L235.00,58.04 L235.60,61.00 L236.20,62.03 L236.80,63.77 L237.40,65.63 L238.00,66.87 L238.60,67.65 L239.20,70.40 L239.80,71.23 L240.40,71.77 L241.00,71.84 L241.60,72.05 L242.20,73.06 L242.80,74.97 L243.40,76.15 L244.00,76.40 L244.60,78.08 L245.20,77.96 L245.80,78.59 L246.40,78.06 L247.00,76.78 L247.60,77.44 L248.20,76.85 L248.80,75.66 L249.40,76.68 L250.00,77.60 L250.60,78.04 L251.20,78.19 L251.80,77.25 L252.40,78.06 L253.00,78.25 L253.60,78.44 L254.20,78.53 L254.80,78.97 L255.40,78.50 L256.00,77.53 L256.60,78.68 L257.20,79.44 L257.80,78.91" fill="none" stroke="#1a78f0" stroke-width="1.7" stroke-linejoin="round" opacity="1"/>
<path d="M217.60,52.31 L218.20,52.08 L218.80,51.64 L219.40,51.02 L220.00,50.43 L220.60,49.00 L221.20,48.80 L221.80,48.10 L222.40,47.33 L223.00,47.31 L223.60,47.32 L224.20,46.71 L224.80,47.01 L225.40,47.69 L226.00,47.69 L226.60,47.73 L227.20,47.70 L227.80,47.42 L228.40,47.03 L229.00,48.17 L229.60,48.03 L230.20,49.01 L230.80,49.56 L231.40,50.15 L232.00,50.67 L232.60,51.05 L233.20,51.83 L233.80,51.71 L234.40,52.66 L235.00,52.56 L235.60,53.89 L236.20,54.01 L236.80,54.83 L237.40,55.55 L238.00,54.77 L238.60,55.79 L239.20,56.86 L239.80,57.63 L240.40,58.29 L241.00,58.51 L241.60,58.87 L242.20,59.21 L242.80,59.73 L243.40,60.25 L244.00,61.05 L244.60,61.17 L245.20,61.70 L245.80,62.41 L246.40,62.48 L247.00,62.13 L247.60,62.48 L248.20,63.03 L248.80,62.73 L249.40,62.44 L250.00,62.99 L250.60,63.82 L251.20,63.80 L251.80,63.94 L252.40,64.40 L253.00,64.22 L253.60,65.42 L254.20,64.91 L254.80,64.95 L255.40,65.80 L256.00,64.74 L256.60,64.70 L257.20,64.80 L257.80,64.48 L258.40,64.70 L259.00,65.06 L259.60,64.90 L260.20,64.82 L260.80,65.27 L261.40,65.66 L262.00,65.23 L262.60,63.93 L263.20,64.96 L263.80,64.94 L264.40,64.56 L265.00,63.95 L265.60,64.02 L266.20,64.00 L266.80,63.70 L267.40,64.61 L268.00,64.55 L268.60,64.00 L269.20,63.67 L269.80,64.42 L270.40,64.30 L271.00,64.22 L271.60,63.83 L272.20,64.59 L272.80,63.90 L273.40,64.13 L274.00,62.80 L274.60,63.33 L275.20,63.11 L275.80,62.07 L276.40,62.48 L277.00,62.29 L277.60,62.13 L278.20,62.26 L278.80,62.18 L279.40,62.65" fill="none" stroke="#b02cdc" stroke-width="1.7" stroke-linejoin="round" opacity="1"/>
<path d="M270.10,97.09 L270.70,96.47 L271.30,94.66 L271.90,94.83 L272.50,93.51 L273.10,92.20 L273.70,91.27 L274.30,90.39 L274.90,90.27 L275.50,90.28 L276.10,89.78 L276.70,89.08 L277.30,87.62 L277.90,87.25 L278.50,88.03 L279.10,87.68 L279.70,87.56 L280.30,86.63 L280.90,85.46 L281.50,85.82 L282.10,85.36 L282.70,84.67 L283.30,83.92 L283.90,83.80 L284.50,83.55 L285.10,83.55 L285.70,83.10 L286.30,83.08 L286.90,81.97 L287.50,81.93 L288.10,81.58 L288.70,80.62 L289.30,80.21 L289.90,80.70 L290.50,80.21 L291.10,79.38 L291.70,78.91 L292.30,78.05 L292.90,77.71 L293.50,76.97 L294.10,76.75 L294.70,76.49 L295.30,75.56 L295.90,75.23 L296.50,74.06 L297.10,73.56 L297.70,72.74 L298.30,72.65 L298.90,72.27 L299.50,71.61 L300.10,71.16 L300.70,71.37 L301.30,71.01 L301.90,69.83 L302.50,70.04 L303.10,68.83 L303.70,68.74 L304.30,68.79 L304.90,68.56 L305.50,67.83 L306.10,67.64 L306.70,67.63 L307.30,67.09 L307.90,66.86 L308.50,67.14 L309.10,66.99 L309.70,66.30 L310.30,65.95 L310.90,65.61 L311.50,65.18 L312.10,64.83 L312.70,64.52 L313.30,64.88 L313.90,64.48 L314.50,64.18 L315.10,64.11 L315.70,64.12 L316.30,64.13 L316.90,63.25 L317.50,62.86 L318.10,62.77 L318.70,62.33 L319.30,62.86 L319.90,62.64 L320.50,62.20 L321.10,61.68 L321.70,61.76 L322.30,61.67 L322.90,61.16 L323.50,60.42 L324.10,59.76 L324.70,60.38 L325.30,59.79 L325.90,59.38 L326.50,59.78 L327.10,59.31 L327.70,58.40 L328.30,58.54 L328.90,58.46 L329.50,58.48 L330.10,57.28 L330.70,57.43 L331.30,57.57 L331.90,57.79 L332.50,56.47 L333.10,55.36 L333.70,55.75 L334.30,56.39 L334.90,56.61 L335.50,56.69 L336.10,55.86 L336.70,55.15 L337.30,55.43 L337.90,54.94 L338.50,54.56 L339.10,54.51 L339.70,54.62 L340.30,53.57 L340.90,53.16 L341.50,53.31 L342.10,53.16 L342.70,52.68 L343.30,52.55 L343.90,53.00 L344.50,53.30 L345.10,52.96 L345.70,52.79 L346.30,52.57 L346.90,51.15 L347.50,50.98 L348.10,51.16 L348.70,50.88 L349.30,50.86 L349.90,51.05 L350.50,50.49 L351.10,50.42 L351.70,49.85" fill="none" stroke="#ff1a1a" stroke-width="1.7" stroke-linejoin="round" opacity="1"/>
<path d="M270.10,91.00 L270.70,90.52 L271.30,90.13 L271.90,90.16 L272.50,90.39 L273.10,89.09 L273.70,89.49 L274.30,89.27 L274.90,88.16 L275.50,87.55 L276.10,87.64 L276.70,87.49 L277.30,87.17 L277.90,86.13 L278.50,85.46 L279.10,83.97 L279.70,82.87 L280.30,82.02 L280.90,81.89 L281.50,81.97 L282.10,81.79 L282.70,81.04 L283.30,81.36 L283.90,80.76 L284.50,80.09 L285.10,79.88 L285.70,80.52 L286.30,79.54 L286.90,78.57 L287.50,78.34 L288.10,78.94 L288.70,77.98 L289.30,78.17 L289.90,77.73 L290.50,76.13 L291.10,76.77 L291.70,75.95 L292.30,75.07 L292.90,74.89 L293.50,74.96 L294.10,74.56 L294.70,74.04 L295.30,73.32 L295.90,73.65 L296.50,73.53 L297.10,73.20 L297.70,72.53 L298.30,72.43 L298.90,72.04 L299.50,71.07 L300.10,70.57 L300.70,70.08 L301.30,69.80 L301.90,69.42 L302.50,68.22 L303.10,68.37 L303.70,68.33 L304.30,67.10 L304.90,67.14 L305.50,67.96 L306.10,66.90 L306.70,66.71 L307.30,66.77 L307.90,66.18 L308.50,65.70 L309.10,65.54 L309.70,65.32 L310.30,65.06 L310.90,65.23 L311.50,65.55 L312.10,65.02 L312.70,65.12 L313.30,64.64 L313.90,64.34 L314.50,63.92 L315.10,63.35 L315.70,63.33 L316.30,62.98 L316.90,62.30 L317.50,62.70 L318.10,62.54 L318.70,62.11 L319.30,61.28 L319.90,60.45 L320.50,61.61 L321.10,60.91 L321.70,59.89 L322.30,60.52 L322.90,60.09 L323.50,60.24 L324.10,59.90 L324.70,60.02 L325.30,59.51 L325.90,59.19 L326.50,59.00 L327.10,58.97 L327.70,57.98 L328.30,58.50 L328.90,58.16 L329.50,57.40 L330.10,57.24 L330.70,56.90 L331.30,56.91 L331.90,56.97 L332.50,56.30 L333.10,56.57 L333.70,56.55 L334.30,56.33 L334.90,56.34 L335.50,55.61 L336.10,55.74 L336.70,56.14 L337.30,55.06 L337.90,54.58 L338.50,54.48 L339.10,54.42 L339.70,53.80 L340.30,53.52 L340.90,52.78 L341.50,52.74 L342.10,52.67 L342.70,52.56 L343.30,52.82 L343.90,53.15 L344.50,52.59 L345.10,52.12 L345.70,52.56 L346.30,52.41 L346.90,51.76 L347.50,52.04 L348.10,51.58 L348.70,51.52 L349.30,51.54 L349.90,51.91 L350.50,51.28 L351.10,51.27 L351.70,51.39" fill="none" stroke="#ffd400" stroke-width="1.7" stroke-linejoin="round" opacity="1"/>
<path d="M270.10,87.65 L270.70,87.20 L271.30,86.51 L271.90,85.44 L272.50,85.82 L273.10,84.93 L273.70,85.61 L274.30,85.43 L274.90,85.16 L275.50,84.79 L276.10,84.15 L276.70,83.33 L277.30,83.07 L277.90,83.21 L278.50,82.09 L279.10,81.56 L279.70,80.95 L280.30,80.61 L280.90,80.41 L281.50,80.25 L282.10,79.70 L282.70,79.24 L283.30,78.83 L283.90,78.61 L284.50,77.84 L285.10,78.05 L285.70,78.15 L286.30,77.10 L286.90,77.11 L287.50,77.68 L288.10,75.91 L288.70,75.05 L289.30,75.34 L289.90,76.04 L290.50,75.69 L291.10,74.15 L291.70,74.19 L292.30,73.70 L292.90,72.92 L293.50,72.21 L294.10,72.81 L294.70,72.03 L295.30,71.97 L295.90,71.78 L296.50,72.09 L297.10,71.39 L297.70,70.07 L298.30,69.99 L298.90,70.05 L299.50,68.90 L300.10,68.77 L300.70,68.64 L301.30,67.71 L301.90,67.43 L302.50,67.20 L303.10,67.68 L303.70,67.40 L304.30,67.64 L304.90,67.23 L305.50,67.05 L306.10,66.65 L306.70,66.63 L307.30,66.03 L307.90,65.54 L308.50,66.11 L309.10,66.10 L309.70,66.17 L310.30,64.99 L310.90,64.27 L311.50,63.41 L312.10,62.30 L312.70,63.07 L313.30,63.69 L313.90,62.87 L314.50,62.08 L315.10,62.92 L315.70,62.48 L316.30,62.21 L316.90,61.99 L317.50,61.92 L318.10,61.75 L318.70,60.77 L319.30,60.94 L319.90,60.86 L320.50,61.08 L321.10,60.31 L321.70,60.91 L322.30,60.57 L322.90,60.46 L323.50,59.47 L324.10,59.61 L324.70,59.16 L325.30,58.21 L325.90,58.30 L326.50,58.05 L327.10,57.60 L327.70,57.33 L328.30,56.92 L328.90,57.10 L329.50,57.18 L330.10,56.48 L330.70,56.05 L331.30,56.70 L331.90,56.19 L332.50,56.03 L333.10,55.76 L333.70,55.53 L334.30,55.70 L334.90,55.20 L335.50,55.03 L336.10,54.27 L336.70,53.99 L337.30,54.53 L337.90,55.27 L338.50,54.73 L339.10,55.00 L339.70,54.36 L340.30,53.96 L340.90,53.40 L341.50,53.53 L342.10,54.16 L342.70,53.78 L343.30,52.85 L343.90,52.80 L344.50,53.28 L345.10,52.67 L345.70,52.82 L346.30,52.20 L346.90,52.64 L347.50,52.97 L348.10,52.58 L348.70,52.14 L349.30,51.90 L349.90,51.68 L350.50,51.67 L351.10,52.06 L351.70,51.93" fill="none" stroke="#12cc12" stroke-width="1.7" stroke-linejoin="round" opacity="1"/>
<path d="M270.10,79.40 L270.70,78.71 L271.30,77.83 L271.90,77.84 L272.50,77.62 L273.10,77.48 L273.70,77.42 L274.30,76.65 L274.90,76.99 L275.50,76.15 L276.10,76.20 L276.70,76.35 L277.30,75.86 L277.90,75.12 L278.50,75.54 L279.10,74.68 L279.70,73.72 L280.30,73.61 L280.90,73.15 L281.50,73.14 L282.10,72.38 L282.70,72.48 L283.30,71.66 L283.90,72.29 L284.50,72.01 L285.10,71.91 L285.70,70.71 L286.30,69.71 L286.90,69.70 L287.50,70.14 L288.10,70.74 L288.70,70.13 L289.30,69.82 L289.90,68.70 L290.50,68.39 L291.10,68.40 L291.70,68.65 L292.30,67.84 L292.90,67.73 L293.50,68.09 L294.10,67.05 L294.70,66.82 L295.30,66.20 L295.90,66.40 L296.50,66.74 L297.10,66.52 L297.70,65.12 L298.30,64.45 L298.90,65.49 L299.50,65.79 L300.10,64.74 L300.70,64.69 L301.30,64.30 L301.90,63.13 L302.50,62.78 L303.10,63.69 L303.70,63.80 L304.30,62.93 L304.90,63.03 L305.50,62.75 L306.10,62.42 L306.70,62.31 L307.30,63.03 L307.90,62.56 L308.50,62.15 L309.10,61.92 L309.70,62.00 L310.30,61.58 L310.90,61.52 L311.50,61.10 L312.10,61.25 L312.70,60.97 L313.30,60.90 L313.90,59.97 L314.50,59.88 L315.10,59.83 L315.70,60.59 L316.30,59.79 L316.90,59.49 L317.50,58.73 L318.10,58.65 L318.70,58.36 L319.30,58.70 L319.90,58.53 L320.50,59.10 L321.10,58.30 L321.70,58.59 L322.30,58.16 L322.90,58.02 L323.50,57.37 L324.10,57.42 L324.70,57.21 L325.30,56.88 L325.90,57.02 L326.50,56.22 L327.10,56.41 L327.70,56.36 L328.30,56.19 L328.90,55.67 L329.50,56.00 L330.10,55.36 L330.70,55.13 L331.30,54.88 L331.90,54.99 L332.50,55.43 L333.10,55.90 L333.70,53.96 L334.30,54.80 L334.90,55.00 L335.50,54.98 L336.10,54.39 L336.70,54.33 L337.30,54.60 L337.90,53.86 L338.50,53.57 L339.10,53.38 L339.70,53.51 L340.30,53.71 L340.90,52.74 L341.50,52.90 L342.10,51.77 L342.70,52.47 L343.30,52.42 L343.90,52.93 L344.50,52.80 L345.10,52.65 L345.70,52.45 L346.30,52.04 L346.90,51.15 L347.50,51.68 L348.10,51.33 L348.70,51.96 L349.30,51.43 L349.90,51.43 L350.50,51.24 L351.10,51.37 L351.70,51.37" fill="none" stroke="#5a16d2" stroke-width="1.7" stroke-linejoin="round" opacity="1"/>
<path d="M269.20,73.85 L269.80,73.39 L270.40,72.68 L271.00,71.81 L271.60,72.40 L272.20,72.71 L272.80,72.40 L273.40,71.70 L274.00,72.40 L274.60,72.04 L275.20,70.81 L275.80,70.45 L276.40,70.63 L277.00,70.18 L277.60,70.29 L278.20,70.67 L278.80,70.52 L279.40,69.72 L280.00,69.51 L280.60,69.23 L281.20,69.16 L281.80,68.90 L282.40,68.52 L283.00,68.61 L283.60,68.11 L284.20,67.55 L284.80,66.47 L285.40,66.30 L286.00,66.44 L286.60,66.54 L287.20,66.04 L287.80,66.53 L288.40,65.87 L289.00,65.48 L289.60,65.16 L290.20,65.05 L290.80,64.93 L291.40,64.36 L292.00,64.72 L292.60,63.86 L293.20,63.95 L293.80,63.58 L294.40,63.43 L295.00,63.56 L295.60,63.38 L296.20,63.55 L296.80,62.70 L297.40,62.77 L298.00,62.84 L298.60,63.26 L299.20,62.92 L299.80,62.40 L300.40,62.47 L301.00,61.94 L301.60,61.15 L302.20,61.43 L302.80,61.63 L303.40,61.04 L304.00,61.51 L304.60,60.99 L305.20,60.45 L305.80,60.52 L306.40,59.72 L307.00,59.75 L307.60,59.70 L308.20,60.05 L308.80,59.38 L309.40,59.06 L310.00,59.61 L310.60,59.30 L311.20,58.98 L311.80,58.98 L312.40,59.42 L313.00,58.94 L313.60,58.61 L314.20,59.63 L314.80,58.93 L315.40,59.06 L316.00,58.67 L316.60,58.34 L317.20,57.28 L317.80,57.13 L318.40,57.42 L319.00,57.06 L319.60,56.97 L320.20,56.93 L320.80,55.59 L321.40,56.13 L322.00,56.80 L322.60,56.05 L323.20,56.00 L323.80,56.07 L324.40,55.96 L325.00,55.72 L325.60,55.19 L326.20,55.41 L326.80,55.21 L327.40,55.73 L328.00,54.96 L328.60,54.98 L329.20,54.87 L329.80,55.18 L330.40,54.81 L331.00,54.74 L331.60,54.16 L332.20,53.97 L332.80,53.72 L333.40,53.88 L334.00,53.73 L334.60,53.25 L335.20,53.15 L335.80,53.61 L336.40,53.45 L337.00,53.07 L337.60,52.82 L338.20,52.73 L338.80,53.06 L339.40,52.79 L340.00,52.60 L340.60,52.53 L341.20,52.49 L341.80,52.51 L342.40,52.44 L343.00,51.76 L343.60,52.05 L344.20,51.78 L344.80,52.11 L345.40,52.50 L346.00,51.29 L346.60,51.26 L347.20,51.40 L347.80,51.06 L348.40,52.51 L349.00,51.79 L349.60,52.23 L350.20,51.75 L350.80,52.01 L351.40,51.81" fill="none" stroke="#1a78f0" stroke-width="1.7" stroke-linejoin="round" opacity="1"/>
<path d="M289.20,60.52 L289.80,60.10 L290.40,61.62 L291.00,61.99 L291.60,61.60 L292.20,60.71 L292.80,60.52 L293.40,60.44 L294.00,60.91 L294.60,60.61 L295.20,60.12 L295.80,60.21 L296.40,60.29 L297.00,59.64 L297.60,58.87 L298.20,58.96 L298.80,58.64 L299.40,57.91 L300.00,57.65 L300.60,58.26 L301.20,57.97 L301.80,58.24 L302.40,57.89 L303.00,58.34 L303.60,58.35 L304.20,57.88 L304.80,56.97 L305.40,56.73 L306.00,58.09 L306.60,57.61 L307.20,57.97 L307.80,56.99 L308.40,56.37 L309.00,56.55 L309.60,56.13 L310.20,56.58 L310.80,57.18 L311.40,57.11 L312.00,57.63 L312.60,56.59 L313.20,56.13 L313.80,55.50 L314.40,55.39 L315.00,55.70 L315.60,55.28 L316.20,55.32 L316.80,55.21 L317.40,55.07 L318.00,55.99 L318.60,54.60 L319.20,55.08 L319.80,55.54 L320.40,55.44 L321.00,54.65 L321.60,54.48 L322.20,55.80 L322.80,55.74 L323.40,54.77 L324.00,54.46 L324.60,54.28 L325.20,53.79 L325.80,54.16 L326.40,54.63 L327.00,54.35 L327.60,53.67 L328.20,54.02 L328.80,53.33 L329.40,52.94 L330.00,53.67 L330.60,53.97 L331.20,54.06 L331.80,53.24 L332.40,53.73 L333.00,53.60 L333.60,53.30 L334.20,52.93 L334.80,52.95 L335.40,53.20 L336.00,53.00 L336.60,52.31 L337.20,52.41 L337.80,52.71 L338.40,53.11 L339.00,52.87 L339.60,52.53 L340.20,52.49 L340.80,53.01 L341.40,52.20 L342.00,51.85 L342.60,51.97 L343.20,52.26 L343.80,52.07 L344.40,51.75 L345.00,51.77 L345.60,52.14 L346.20,52.14 L346.80,51.89 L347.40,51.37 L348.00,51.71 L348.60,52.08 L349.20,51.52 L349.80,52.19 L350.40,51.80 L351.00,51.73 L351.60,50.99" fill="none" stroke="#b02cdc" stroke-width="1.7" stroke-linejoin="round" opacity="1"/>
<text x="370.4" y="17.3" font-size="13" text-anchor="middle" font-weight="normal" fill="#222" font-family='"Liberation Serif", serif'  stroke="#222" stroke-width="0.2">c</text>
<polygon points="538.5,8.2 545.5,10.5 511,58.5 457,54" fill="url(#beamG)" filter="url(#blur05)"/>
<polygon points="385,76.4 512,86.2 511.5,90.2 384,80.6" fill="#fad197"/>
<polygon points="382.5,66.4 425,67 425,71.4 384,69.4" fill="#2fd8be"/>
<path d="M424,66.8 L432,67.6 C436,68.2 439,70 441.5,74 L442,84 C439.5,79 436.5,74.5 432,72.8 L424,71.4 Z" fill="#b8acf4"/>
<polygon points="386,111.8 425,112.8 425,117.6 388,114.6" fill="#2fd8be"/>
<path d="M424,112.8 L433,114 C437,114.8 440,117 442,121 L442.8,131 C440,126 437,121.5 432.5,119.5 L424,117.6 Z" fill="#b8acf4"/>
<polygon points="439,31 446.8,27.3 448.2,133.5 441.2,139.2" fill="url(#planeG)" opacity="0.92"/>
<polygon points="439,81.2 448,81.9 448,85.6 439,84.9" fill="#fcd49a" opacity="0.6"/>
<path d="M441.5,84 L441,76.5 C443,79 444.5,81 445,83 Z" fill="#c07ae6" opacity="0.6"/>
<path d="M441,62 C444.5,57 450,55.2 459,55.6 L459.5,63 C452,62.5 448,64 445.5,67.5 L441.5,69 Z" fill="#bcb0f6"/>
<polygon points="457,60.8 510.5,63 507,67 457,65.8" fill="#f8674e"/>
<path d="M446,99 C448.5,104 452,106.8 458,107.6 L458.5,113.5 C452,112.8 448.5,110 446.5,106.5 Z" fill="#b4a6f2"/>
<polygon points="456.5,110.8 510,113.4 504.5,120.2 457,116" fill="#f8674e"/>
<rect x="407.3" y="75.5" width="1.5" height="32.5" fill="url(#arrowG)"/>
<polygon points="408.05,71.5 405.5,77 410.6,77" fill="#ff8cb0"/>
<rect x="477.9" y="71" width="1.5" height="37.8" fill="url(#arrowG)"/>
<polygon points="478.65,66.8 476.1,72.3 481.2,72.3" fill="#ff8cb0"/>
<circle cx="392.5" cy="64.3" r="2.65" fill="url(#ballO)"/>
<circle cx="398.9" cy="64.5" r="2.65" fill="url(#ballO)"/>
<circle cx="405.4" cy="64.8" r="2.65" fill="url(#ballO)"/>
<circle cx="412" cy="65.3" r="2.65" fill="url(#ballO)"/>
<circle cx="419.1" cy="65.8" r="2.65" fill="url(#ballO)"/>
<circle cx="426.3" cy="66.4" r="2.65" fill="url(#ballO)"/>
<circle cx="433.1" cy="68.3" r="2.65" fill="url(#ballO)"/>
<circle cx="440.1" cy="71.5" r="2.65" fill="url(#ballO)"/>
<circle cx="443.9" cy="80.5" r="2.65" fill="url(#ballO)"/>
<circle cx="445.4" cy="89.8" r="2.65" fill="url(#ballO)"/>
<circle cx="446.3" cy="98.6" r="2.65" fill="url(#ballO)"/>
<circle cx="449" cy="56.6" r="2.65" fill="url(#ballO)"/>
<circle cx="456" cy="58.3" r="2.65" fill="url(#ballO)"/>
<circle cx="462.6" cy="58.6" r="2.65" fill="url(#ballO)"/>
<circle cx="469.6" cy="59" r="2.65" fill="url(#ballO)"/>
<circle cx="476.4" cy="59.4" r="2.65" fill="url(#ballO)"/>
<circle cx="483.6" cy="59.9" r="2.65" fill="url(#ballO)"/>
<circle cx="490.8" cy="60.4" r="2.65" fill="url(#ballO)"/>
<circle cx="498" cy="61" r="2.65" fill="url(#ballO)"/>
<circle cx="505.2" cy="61.6" r="2.65" fill="url(#ballO)"/>
<circle cx="392" cy="110.1" r="2.65" fill="url(#ballC)"/>
<circle cx="398" cy="110.4" r="2.65" fill="url(#ballC)"/>
<circle cx="404.5" cy="110.9" r="2.65" fill="url(#ballC)"/>
<circle cx="410.8" cy="111.3" r="2.65" fill="url(#ballC)"/>
<circle cx="418.1" cy="112.6" r="2.65" fill="url(#ballC)"/>
<circle cx="425.4" cy="113.4" r="2.65" fill="url(#ballC)"/>
<circle cx="432.6" cy="114.8" r="2.65" fill="url(#ballC)"/>
<circle cx="439.4" cy="117.4" r="2.65" fill="url(#ballC)"/>
<circle cx="452.3" cy="108.7" r="2.65" fill="url(#ballC)"/>
<circle cx="458.8" cy="110.4" r="2.65" fill="url(#ballC)"/>
<circle cx="466.4" cy="111.6" r="2.65" fill="url(#ballC)"/>
<circle cx="473.1" cy="112.3" r="2.65" fill="url(#ballC)"/>
<circle cx="480" cy="113.1" r="2.65" fill="url(#ballC)"/>
<circle cx="487.3" cy="113.6" r="2.65" fill="url(#ballC)"/>
<circle cx="494.5" cy="114.1" r="2.65" fill="url(#ballC)"/>
<circle cx="501.5" cy="114.6" r="2.65" fill="url(#ballC)"/>
<text x="368.3" y="67.2" font-size="9" font-weight="bold" fill="#111" font-family='"Liberation Sans", sans-serif'>E<tspan font-size="6.12" dy="2.97">CB</tspan></text>
<text x="373.8" y="79.2" font-size="9" font-weight="bold" fill="#f2b03a" font-family='"Liberation Sans", sans-serif'>E<tspan font-size="6.12" dy="2.97">f</tspan></text>
<text x="370.3" y="113.2" font-size="9" font-weight="bold" fill="#111" font-family='"Liberation Sans", sans-serif'>E<tspan font-size="6.12" dy="2.97">VB</tspan></text>
<text x="510.5" y="64.4" font-size="9" font-weight="bold" fill="#111" font-family='"Liberation Sans", sans-serif'>E<tspan font-size="6.12" dy="2.97">CB</tspan></text>
<text x="503.1" y="128.6" font-size="9.4" font-weight="bold" fill="#111" font-family='"Liberation Sans", sans-serif'>E<tspan font-size="6.39" dy="3.10">VB</tspan></text>
<text x="431.2" y="65.5" font-size="8" font-weight="bold" fill="#111" font-family='"Liberation Sans", sans-serif'>e<tspan font-size="5.5" dy="-3.2">-</tspan></text>
<text x="447.6" y="52.7" font-size="8" font-weight="bold" fill="#111" font-family='"Liberation Sans", sans-serif'>e<tspan font-size="5.5" dy="-3.2">-</tspan></text>
<text x="432.3" y="111" font-size="8" font-weight="bold" fill="#111" font-family='"Liberation Sans", sans-serif'>h<tspan font-size="5.5" dy="-3.2">+</tspan></text>
<text x="451.2" y="104.5" font-size="8" font-weight="bold" fill="#111" font-family='"Liberation Sans", sans-serif'>h<tspan font-size="5.5" dy="-3.2">+</tspan></text>
<text x="400.5" y="23.6" font-size="8.6" font-weight="bold" fill="#e21ccc" font-family='"Liberation Sans", sans-serif'>Internal Electric Field</text>
<text x="393.1" y="129.2" font-size="9.6" font-weight="bold" fill="#18dcaa" font-family='"Liberation Sans", sans-serif'>CBB</text>
<text x="468" y="132.8" font-size="10.4" font-weight="bold" fill="#f4604a" font-family='"Liberation Sans", sans-serif'>ISS</text>
<rect x="31.4" y="154.8" width="124.1" height="109.5" fill="#00fd00"/>
<svg x="31.4" y="154.8" width="124.1" height="109.5" viewBox="31.4 154.8 124.1 109.5" overflow="hidden">
<rect x="30.5" y="160" width="3.6" height="92" fill="#90f800" filter="url(#blur05)" opacity="0.8"/>
<ellipse cx="33.10" cy="173.31" rx="0.96" ry="1.03" fill="#f4e800" opacity="0.66" filter="url(#blur05)"/>
<ellipse cx="31.81" cy="243.68" rx="0.68" ry="2.14" fill="#f4e800" opacity="0.85" filter="url(#blur05)"/>
<ellipse cx="33.13" cy="194.47" rx="1.00" ry="1.33" fill="#f4e800" opacity="0.66" filter="url(#blur05)"/>
<ellipse cx="33.61" cy="231.35" rx="0.91" ry="1.98" fill="#f4e800" opacity="0.82" filter="url(#blur05)"/>
<ellipse cx="32.21" cy="248.32" rx="0.93" ry="1.58" fill="#f4e800" opacity="0.74" filter="url(#blur05)"/>
<ellipse cx="32.31" cy="214.06" rx="1.08" ry="2.04" fill="#f4e800" opacity="0.65" filter="url(#blur05)"/>
<ellipse cx="32.43" cy="203.10" rx="0.65" ry="2.08" fill="#f4e800" opacity="0.77" filter="url(#blur05)"/>
<ellipse cx="33.62" cy="175.00" rx="0.72" ry="2.08" fill="#f4e800" opacity="0.69" filter="url(#blur05)"/>
<ellipse cx="32.20" cy="164.91" rx="0.81" ry="1.56" fill="#f4e800" opacity="0.96" filter="url(#blur05)"/>
<ellipse cx="32.62" cy="223.37" rx="0.61" ry="1.19" fill="#f4e800" opacity="1.00" filter="url(#blur05)"/>
<ellipse cx="33.67" cy="202.46" rx="0.63" ry="1.04" fill="#f4e800" opacity="0.94" filter="url(#blur05)"/>
<ellipse cx="32.53" cy="213.73" rx="0.79" ry="1.11" fill="#f4e800" opacity="0.67" filter="url(#blur05)"/>
<ellipse cx="34.12" cy="164.16" rx="0.88" ry="1.15" fill="#f4e800" opacity="0.90" filter="url(#blur05)"/>
<ellipse cx="31.79" cy="179.22" rx="0.96" ry="2.07" fill="#f4e800" opacity="0.61" filter="url(#blur05)"/>
<ellipse cx="32.17" cy="232.85" rx="0.66" ry="1.02" fill="#f4e800" opacity="0.72" filter="url(#blur05)"/>
<ellipse cx="33.08" cy="225.99" rx="1.11" ry="1.26" fill="#f4e800" opacity="0.73" filter="url(#blur05)"/>
<ellipse cx="34.53" cy="184.72" rx="1.16" ry="1.41" fill="#f4e800" opacity="0.77" filter="url(#blur05)"/>
<ellipse cx="33.84" cy="189.66" rx="0.62" ry="1.08" fill="#f4e800" opacity="0.76" filter="url(#blur05)"/>
<ellipse cx="34.14" cy="183.57" rx="1.05" ry="1.65" fill="#f4e800" opacity="0.86" filter="url(#blur05)"/>
<ellipse cx="33.94" cy="222.92" rx="1.16" ry="1.18" fill="#f4e800" opacity="0.85" filter="url(#blur05)"/>
<ellipse cx="32.93" cy="174.64" rx="1.07" ry="2.07" fill="#f4e800" opacity="0.90" filter="url(#blur05)"/>
<ellipse cx="32.68" cy="165.12" rx="0.70" ry="2.20" fill="#f4e800" opacity="0.66" filter="url(#blur05)"/>
<ellipse cx="32.67" cy="183.50" rx="0.64" ry="2.04" fill="#f4e800" opacity="0.85" filter="url(#blur05)"/>
<ellipse cx="33.09" cy="176.06" rx="0.65" ry="1.73" fill="#f4e800" opacity="0.69" filter="url(#blur05)"/>
<ellipse cx="31.95" cy="165.40" rx="0.93" ry="1.76" fill="#f4e800" opacity="0.73" filter="url(#blur05)"/>
<ellipse cx="32.66" cy="218.62" rx="0.68" ry="1.38" fill="#f4e800" opacity="0.76" filter="url(#blur05)"/>
<ellipse cx="31.95" cy="242.31" rx="0.65" ry="1.67" fill="#f4e800" opacity="0.99" filter="url(#blur05)"/>
<ellipse cx="33.70" cy="241.84" rx="0.64" ry="1.97" fill="#f4e800" opacity="0.87" filter="url(#blur05)"/>
<ellipse cx="32.99" cy="174.67" rx="0.63" ry="1.96" fill="#f4e800" opacity="0.89" filter="url(#blur05)"/>
<ellipse cx="33.88" cy="232.81" rx="0.76" ry="1.95" fill="#f4e800" opacity="0.70" filter="url(#blur05)"/>
<ellipse cx="32.77" cy="174.13" rx="0.90" ry="1.34" fill="#f4e800" opacity="0.84" filter="url(#blur05)"/>
<ellipse cx="32.32" cy="215.02" rx="0.97" ry="1.43" fill="#f4e800" opacity="0.89" filter="url(#blur05)"/>
<ellipse cx="34.00" cy="187.56" rx="0.85" ry="1.66" fill="#f4e800" opacity="0.87" filter="url(#blur05)"/>
<ellipse cx="32.37" cy="207.62" rx="1.19" ry="1.12" fill="#f4e800" opacity="0.73" filter="url(#blur05)"/>
<ellipse cx="32.4" cy="176" rx="1.6" ry="4.5" fill="#f8e000" filter="url(#blur05)"/>
<ellipse cx="32.2" cy="246" rx="1.6" ry="4.5" fill="#f8e800" filter="url(#blur05)"/>
<polygon points="40.4,154 42.4,154 44,210 39.6,210" fill="url(#streakD)" filter="url(#blur1)"/>
<ellipse cx="52.2" cy="230.5" rx="2.3" ry="8" fill="#b8f030" opacity="0.9" filter="url(#blur05)"/>
<circle cx="50.13" cy="232.24" r="0.56" fill="#e8f040" opacity="0.8"/>
<circle cx="53.53" cy="235.99" r="0.75" fill="#e8f040" opacity="0.8"/>
<circle cx="53.40" cy="237.53" r="0.62" fill="#e8f040" opacity="0.8"/>
<circle cx="51.53" cy="233.67" r="0.80" fill="#e8f040" opacity="0.8"/>
<circle cx="50.69" cy="229.77" r="0.85" fill="#e8f040" opacity="0.8"/>
<circle cx="53.35" cy="234.36" r="0.72" fill="#e8f040" opacity="0.8"/>
<circle cx="52.02" cy="235.74" r="0.73" fill="#e8f040" opacity="0.8"/>
<circle cx="52.50" cy="224.94" r="0.83" fill="#e8f040" opacity="0.8"/>
<circle cx="53.61" cy="234.58" r="0.70" fill="#e8f040" opacity="0.8"/>
<circle cx="50.49" cy="237.22" r="0.85" fill="#e8f040" opacity="0.8"/>
<path d="M41.2,200 C42.8,200 45,213 47.5,227 C50,240 50.2,252 45.5,259.2 C43.5,261.2 41.5,260.2 40,257.2 C37.3,250 37.2,238 38.2,227 C38.9,215 39.9,200 41.2,200 Z" fill="#30f2ff" filter="url(#blur05)"/>
<path d="M41.8,219 C43.2,219 44.8,228 46.6,236 C48.3,244 48.2,251 45,256.5 C43,258 41.5,257.5 40.5,255 C39,249 39.2,241 39.8,234 C40.3,227 40.9,219 41.8,219 Z" fill="#0064ff" filter="url(#blur05)"/>
<path d="M42.2,228 C43.4,228 45.3,237 46.2,243 C47,249 46.2,253.5 44,255.3 C42,255.8 40.9,253 40.6,249 C40.3,243 41,228 42.2,228 Z" fill="#0a18ee" filter="url(#blur05)"/>
</svg>
<rect x="31.4" y="154.8" width="124.1" height="109.5" fill="none" stroke="#555" stroke-width="0.5"/>
<line x1="41.20" y1="264.3" x2="41.20" y2="266.3" stroke="#333" stroke-width="0.7"/>
<text x="41.2" y="275.4" font-size="9.6" text-anchor="middle" font-weight="normal" fill="#222" font-family='"Liberation Serif", serif'  stroke="#222" stroke-width="0.2">450</text>
<line x1="60.04" y1="264.3" x2="60.04" y2="266.3" stroke="#333" stroke-width="0.7"/>
<text x="60.04" y="275.4" font-size="9.6" text-anchor="middle" font-weight="normal" fill="#222" font-family='"Liberation Serif", serif'  stroke="#222" stroke-width="0.2">500</text>
<line x1="78.88" y1="264.3" x2="78.88" y2="266.3" stroke="#333" stroke-width="0.7"/>
<text x="78.88" y="275.4" font-size="9.6" text-anchor="middle" font-weight="normal" fill="#222" font-family='"Liberation Serif", serif'  stroke="#222" stroke-width="0.2">550</text>
<line x1="97.72" y1="264.3" x2="97.72" y2="266.3" stroke="#333" stroke-width="0.7"/>
<text x="97.72" y="275.4" font-size="9.6" text-anchor="middle" font-weight="normal" fill="#222" font-family='"Liberation Serif", serif'  stroke="#222" stroke-width="0.2">600</text>
<line x1="116.56" y1="264.3" x2="116.56" y2="266.3" stroke="#333" stroke-width="0.7"/>
<text x="116.56" y="275.4" font-size="9.6" text-anchor="middle" font-weight="normal" fill="#222" font-family='"Liberation Serif", serif'  stroke="#222" stroke-width="0.2">650</text>
<line x1="135.40" y1="264.3" x2="135.40" y2="266.3" stroke="#333" stroke-width="0.7"/>
<text x="135.4" y="275.4" font-size="9.6" text-anchor="middle" font-weight="normal" fill="#222" font-family='"Liberation Serif", serif'  stroke="#222" stroke-width="0.2">700</text>
<line x1="154.24" y1="264.3" x2="154.24" y2="266.3" stroke="#333" stroke-width="0.7"/>
<text x="154.24" y="275.4" font-size="9.6" text-anchor="middle" font-weight="normal" fill="#222" font-family='"Liberation Serif", serif'  stroke="#222" stroke-width="0.2">750</text>
<line x1="31.78" y1="264.3" x2="31.78" y2="265.5" stroke="#333" stroke-width="0.7"/>
<line x1="50.62" y1="264.3" x2="50.62" y2="265.5" stroke="#333" stroke-width="0.7"/>
<line x1="69.46" y1="264.3" x2="69.46" y2="265.5" stroke="#333" stroke-width="0.7"/>
<line x1="88.30" y1="264.3" x2="88.30" y2="265.5" stroke="#333" stroke-width="0.7"/>
<line x1="107.14" y1="264.3" x2="107.14" y2="265.5" stroke="#333" stroke-width="0.7"/>
<line x1="125.98" y1="264.3" x2="125.98" y2="265.5" stroke="#333" stroke-width="0.7"/>
<line x1="144.82" y1="264.3" x2="144.82" y2="265.5" stroke="#333" stroke-width="0.7"/>
<line x1="30.299999999999997" y1="257.37" x2="31.4" y2="257.37" stroke="#444" stroke-width="0.5"/>
<line x1="30.299999999999997" y1="253.37" x2="31.4" y2="253.37" stroke="#444" stroke-width="0.5"/>
<line x1="30.299999999999997" y1="250.53" x2="31.4" y2="250.53" stroke="#444" stroke-width="0.5"/>
<line x1="30.299999999999997" y1="248.33" x2="31.4" y2="248.33" stroke="#444" stroke-width="0.5"/>
<line x1="30.299999999999997" y1="246.54" x2="31.4" y2="246.54" stroke="#444" stroke-width="0.5"/>
<line x1="30.299999999999997" y1="245.02" x2="31.4" y2="245.02" stroke="#444" stroke-width="0.5"/>
<line x1="30.299999999999997" y1="243.70" x2="31.4" y2="243.70" stroke="#444" stroke-width="0.5"/>
<line x1="30.299999999999997" y1="242.54" x2="31.4" y2="242.54" stroke="#444" stroke-width="0.5"/>
<line x1="30.299999999999997" y1="234.67" x2="31.4" y2="234.67" stroke="#444" stroke-width="0.5"/>
<line x1="30.299999999999997" y1="230.67" x2="31.4" y2="230.67" stroke="#444" stroke-width="0.5"/>
<line x1="30.299999999999997" y1="227.83" x2="31.4" y2="227.83" stroke="#444" stroke-width="0.5"/>
<line x1="30.299999999999997" y1="225.63" x2="31.4" y2="225.63" stroke="#444" stroke-width="0.5"/>
<line x1="30.299999999999997" y1="223.84" x2="31.4" y2="223.84" stroke="#444" stroke-width="0.5"/>
<line x1="30.299999999999997" y1="222.32" x2="31.4" y2="222.32" stroke="#444" stroke-width="0.5"/>
<line x1="30.299999999999997" y1="221.00" x2="31.4" y2="221.00" stroke="#444" stroke-width="0.5"/>
<line x1="30.299999999999997" y1="219.84" x2="31.4" y2="219.84" stroke="#444" stroke-width="0.5"/>
<line x1="30.299999999999997" y1="211.97" x2="31.4" y2="211.97" stroke="#444" stroke-width="0.5"/>
<line x1="30.299999999999997" y1="207.97" x2="31.4" y2="207.97" stroke="#444" stroke-width="0.5"/>
<line x1="30.299999999999997" y1="205.13" x2="31.4" y2="205.13" stroke="#444" stroke-width="0.5"/>
<line x1="30.299999999999997" y1="202.93" x2="31.4" y2="202.93" stroke="#444" stroke-width="0.5"/>
<line x1="30.299999999999997" y1="201.14" x2="31.4" y2="201.14" stroke="#444" stroke-width="0.5"/>
<line x1="30.299999999999997" y1="199.62" x2="31.4" y2="199.62" stroke="#444" stroke-width="0.5"/>
<line x1="30.299999999999997" y1="198.30" x2="31.4" y2="198.30" stroke="#444" stroke-width="0.5"/>
<line x1="30.299999999999997" y1="197.14" x2="31.4" y2="197.14" stroke="#444" stroke-width="0.5"/>
<line x1="30.299999999999997" y1="189.27" x2="31.4" y2="189.27" stroke="#444" stroke-width="0.5"/>
<line x1="30.299999999999997" y1="185.27" x2="31.4" y2="185.27" stroke="#444" stroke-width="0.5"/>
<line x1="30.299999999999997" y1="182.43" x2="31.4" y2="182.43" stroke="#444" stroke-width="0.5"/>
<line x1="30.299999999999997" y1="180.23" x2="31.4" y2="180.23" stroke="#444" stroke-width="0.5"/>
<line x1="30.299999999999997" y1="178.44" x2="31.4" y2="178.44" stroke="#444" stroke-width="0.5"/>
<line x1="30.299999999999997" y1="176.92" x2="31.4" y2="176.92" stroke="#444" stroke-width="0.5"/>
<line x1="30.299999999999997" y1="175.60" x2="31.4" y2="175.60" stroke="#444" stroke-width="0.5"/>
<line x1="30.299999999999997" y1="174.44" x2="31.4" y2="174.44" stroke="#444" stroke-width="0.5"/>
<line x1="30.299999999999997" y1="166.57" x2="31.4" y2="166.57" stroke="#444" stroke-width="0.5"/>
<line x1="30.299999999999997" y1="162.57" x2="31.4" y2="162.57" stroke="#444" stroke-width="0.5"/>
<line x1="30.299999999999997" y1="159.73" x2="31.4" y2="159.73" stroke="#444" stroke-width="0.5"/>
<line x1="30.299999999999997" y1="157.53" x2="31.4" y2="157.53" stroke="#444" stroke-width="0.5"/>
<line x1="30.299999999999997" y1="155.74" x2="31.4" y2="155.74" stroke="#444" stroke-width="0.5"/>
<line x1="29.4" y1="173.40" x2="31.4" y2="173.40" stroke="#333" stroke-width="0.7"/>
<text x="28" y="176.7" font-size="9.6" text-anchor="end" font-weight="normal" fill="#222" font-family='"Liberation Serif", serif'  stroke="#222" stroke-width="0.2">1000</text>
<line x1="29.4" y1="196.10" x2="31.4" y2="196.10" stroke="#333" stroke-width="0.7"/>
<text x="28" y="199.4" font-size="9.6" text-anchor="end" font-weight="normal" fill="#222" font-family='"Liberation Serif", serif'  stroke="#222" stroke-width="0.2">100</text>
<line x1="29.4" y1="218.80" x2="31.4" y2="218.80" stroke="#333" stroke-width="0.7"/>
<text x="28" y="222.1" font-size="9.6" text-anchor="end" font-weight="normal" fill="#222" font-family='"Liberation Serif", serif'  stroke="#222" stroke-width="0.2">10</text>
<line x1="29.4" y1="241.50" x2="31.4" y2="241.50" stroke="#333" stroke-width="0.7"/>
<text x="28" y="244.8" font-size="9.6" text-anchor="end" font-weight="normal" fill="#222" font-family='"Liberation Serif", serif'  stroke="#222" stroke-width="0.2">1</text>
<line x1="29.4" y1="264.20" x2="31.4" y2="264.20" stroke="#333" stroke-width="0.7"/>
<text x="28" y="267.5" font-size="9.6" text-anchor="end" font-weight="normal" fill="#222" font-family='"Liberation Serif", serif'  stroke="#222" stroke-width="0.2">0.1</text>
<text x="95" y="284.4" font-size="11.6" text-anchor="middle" font-weight="normal" fill="#222" font-family='"Liberation Serif", serif' textLength="87.5" lengthAdjust="spacingAndGlyphs" stroke="#222" stroke-width="0.35">Wavelength (nm)</text>
<text x="0" y="0" font-size="12" text-anchor="middle" font-weight="normal" fill="#222" font-family='"Liberation Serif", serif' transform="translate(12.8,216.3) rotate(-90)" textLength="50" lengthAdjust="spacingAndGlyphs" stroke="#222" stroke-width="0.35">Time (ps)</text>
<text x="22.8" y="152.3" font-size="12.5" text-anchor="middle" font-weight="normal" fill="#222" font-family='"Liberation Serif", serif'  stroke="#222" stroke-width="0.2">d</text>
<rect x="156.8" y="155.2" width="9.2" height="108.3" fill="url(#cbarD)"/>
<text x="168.4" y="158.39999999999998" font-size="6.5" font-weight="bold" fill="#222" font-family='"Liberation Serif", serif'>2.2x10<tspan font-size="4.2" dy="-2.7">-2</tspan></text>
<text x="168.4" y="169.5" font-size="6.5" font-weight="bold" fill="#222" font-family='"Liberation Serif", serif'>1.7x10<tspan font-size="4.2" dy="-2.7">-2</tspan></text>
<text x="168.4" y="185.89999999999998" font-size="6.5" font-weight="bold" fill="#222" font-family='"Liberation Serif", serif'>9.3x10<tspan font-size="4.2" dy="-2.7">-3</tspan></text>
<text x="168.4" y="201.2" font-size="6.5" font-weight="bold" fill="#222" font-family='"Liberation Serif", serif'>1.6x10<tspan font-size="4.2" dy="-2.7">-3</tspan></text>
<text x="168.4" y="216.7" font-size="6.5" font-weight="bold" fill="#222" font-family='"Liberation Serif", serif'>-6.0x10<tspan font-size="4.2" dy="-2.7">-3</tspan></text>
<text x="168.4" y="233.0" font-size="6.5" font-weight="bold" fill="#222" font-family='"Liberation Serif", serif'>-1.4x10<tspan font-size="4.2" dy="-2.7">-2</tspan></text>
<text x="168.4" y="248.2" font-size="6.5" font-weight="bold" fill="#222" font-family='"Liberation Serif", serif'>-2.1x10<tspan font-size="4.2" dy="-2.7">-2</tspan></text>
<text x="168.4" y="264.7" font-size="6.5" font-weight="bold" fill="#222" font-family='"Liberation Serif", serif'>-2.9x10<tspan font-size="4.2" dy="-2.7">-2</tspan></text>
<rect x="220.2" y="155.9" width="123.80000000000001" height="109.29999999999998" fill="#06f52a"/>
<svg x="220.2" y="155.9" width="123.80000000000001" height="109.29999999999998" viewBox="220.2 155.9 123.80000000000001 109.29999999999998" overflow="hidden">
<polygon points="228.8,154 233.4,154 234.4,234 228.2,234" fill="url(#streakE)" filter="url(#blur1)"/>
<ellipse cx="231.5" cy="247" rx="9" ry="17" fill="#30f0a8" opacity="0.45" filter="url(#blur2)"/>
<path d="M231.2,230.5 C233.4,230.5 235.6,239 236.2,246 C236.8,253 235,258.8 231.4,260 C228,258.8 226.2,253 226.6,246 C227,239 229,230.5 231.2,230.5 Z" fill="#44c8f4" filter="url(#blur1)"/>
<path d="M231.3,238 C233,238 234.4,243 234.6,248 C234.8,252.5 233.6,256 231.4,256.5 C229.2,256 228.2,252.5 228.3,248 C228.4,243 229.6,238 231.3,238 Z" fill="#1f6cf0" filter="url(#blur05)"/>
</svg>
<rect x="220.2" y="155.9" width="123.80000000000001" height="109.29999999999998" fill="none" stroke="#555" stroke-width="0.5"/>
<line x1="232.00" y1="265.2" x2="232.00" y2="267.2" stroke="#333" stroke-width="0.7"/>
<text x="232.0" y="276.4" font-size="9.6" text-anchor="middle" font-weight="normal" fill="#222" font-family='"Liberation Serif", serif'  stroke="#222" stroke-width="0.2">450</text>
<line x1="250.63" y1="265.2" x2="250.63" y2="267.2" stroke="#333" stroke-width="0.7"/>
<text x="250.63" y="276.4" font-size="9.6" text-anchor="middle" font-weight="normal" fill="#222" font-family='"Liberation Serif", serif'  stroke="#222" stroke-width="0.2">500</text>
<line x1="269.27" y1="265.2" x2="269.27" y2="267.2" stroke="#333" stroke-width="0.7"/>
<text x="269.27" y="276.4" font-size="9.6" text-anchor="middle" font-weight="normal" fill="#222" font-family='"Liberation Serif", serif'  stroke="#222" stroke-width="0.2">550</text>
<line x1="287.90" y1="265.2" x2="287.90" y2="267.2" stroke="#333" stroke-width="0.7"/>
<text x="287.9" y="276.4" font-size="9.6" text-anchor="middle" font-weight="normal" fill="#222" font-family='"Liberation Serif", serif'  stroke="#222" stroke-width="0.2">600</text>
<line x1="306.54" y1="265.2" x2="306.54" y2="267.2" stroke="#333" stroke-width="0.7"/>
<text x="306.54" y="276.4" font-size="9.6" text-anchor="middle" font-weight="normal" fill="#222" font-family='"Liberation Serif", serif'  stroke="#222" stroke-width="0.2">650</text>
<line x1="325.18" y1="265.2" x2="325.18" y2="267.2" stroke="#333" stroke-width="0.7"/>
<text x="325.18" y="276.4" font-size="9.6" text-anchor="middle" font-weight="normal" fill="#222" font-family='"Liberation Serif", serif'  stroke="#222" stroke-width="0.2">700</text>
<line x1="343.81" y1="265.2" x2="343.81" y2="267.2" stroke="#333" stroke-width="0.7"/>
<text x="343.81" y="276.4" font-size="9.6" text-anchor="middle" font-weight="normal" fill="#222" font-family='"Liberation Serif", serif'  stroke="#222" stroke-width="0.2">750</text>
<line x1="219.1" y1="257.99" x2="220.2" y2="257.99" stroke="#444" stroke-width="0.5"/>
<line x1="219.1" y1="254.06" x2="220.2" y2="254.06" stroke="#444" stroke-width="0.5"/>
<line x1="219.1" y1="251.27" x2="220.2" y2="251.27" stroke="#444" stroke-width="0.5"/>
<line x1="219.1" y1="249.11" x2="220.2" y2="249.11" stroke="#444" stroke-width="0.5"/>
<line x1="219.1" y1="247.35" x2="220.2" y2="247.35" stroke="#444" stroke-width="0.5"/>
<line x1="219.1" y1="245.85" x2="220.2" y2="245.85" stroke="#444" stroke-width="0.5"/>
<line x1="219.1" y1="244.56" x2="220.2" y2="244.56" stroke="#444" stroke-width="0.5"/>
<line x1="219.1" y1="243.42" x2="220.2" y2="243.42" stroke="#444" stroke-width="0.5"/>
<line x1="219.1" y1="235.69" x2="220.2" y2="235.69" stroke="#444" stroke-width="0.5"/>
<line x1="219.1" y1="231.76" x2="220.2" y2="231.76" stroke="#444" stroke-width="0.5"/>
<line x1="219.1" y1="228.97" x2="220.2" y2="228.97" stroke="#444" stroke-width="0.5"/>
<line x1="219.1" y1="226.81" x2="220.2" y2="226.81" stroke="#444" stroke-width="0.5"/>
<line x1="219.1" y1="225.05" x2="220.2" y2="225.05" stroke="#444" stroke-width="0.5"/>
<line x1="219.1" y1="223.55" x2="220.2" y2="223.55" stroke="#444" stroke-width="0.5"/>
<line x1="219.1" y1="222.26" x2="220.2" y2="222.26" stroke="#444" stroke-width="0.5"/>
<line x1="219.1" y1="221.12" x2="220.2" y2="221.12" stroke="#444" stroke-width="0.5"/>
<line x1="219.1" y1="213.39" x2="220.2" y2="213.39" stroke="#444" stroke-width="0.5"/>
<line x1="219.1" y1="209.46" x2="220.2" y2="209.46" stroke="#444" stroke-width="0.5"/>
<line x1="219.1" y1="206.67" x2="220.2" y2="206.67" stroke="#444" stroke-width="0.5"/>
<line x1="219.1" y1="204.51" x2="220.2" y2="204.51" stroke="#444" stroke-width="0.5"/>
<line x1="219.1" y1="202.75" x2="220.2" y2="202.75" stroke="#444" stroke-width="0.5"/>
<line x1="219.1" y1="201.25" x2="220.2" y2="201.25" stroke="#444" stroke-width="0.5"/>
<line x1="219.1" y1="199.96" x2="220.2" y2="199.96" stroke="#444" stroke-width="0.5"/>
<line x1="219.1" y1="198.82" x2="220.2" y2="198.82" stroke="#444" stroke-width="0.5"/>
<line x1="219.1" y1="191.09" x2="220.2" y2="191.09" stroke="#444" stroke-width="0.5"/>
<line x1="219.1" y1="187.16" x2="220.2" y2="187.16" stroke="#444" stroke-width="0.5"/>
<line x1="219.1" y1="184.37" x2="220.2" y2="184.37" stroke="#444" stroke-width="0.5"/>
<line x1="219.1" y1="182.21" x2="220.2" y2="182.21" stroke="#444" stroke-width="0.5"/>
<line x1="219.1" y1="180.45" x2="220.2" y2="180.45" stroke="#444" stroke-width="0.5"/>
<line x1="219.1" y1="178.95" x2="220.2" y2="178.95" stroke="#444" stroke-width="0.5"/>
<line x1="219.1" y1="177.66" x2="220.2" y2="177.66" stroke="#444" stroke-width="0.5"/>
<line x1="219.1" y1="176.52" x2="220.2" y2="176.52" stroke="#444" stroke-width="0.5"/>
<line x1="219.1" y1="168.79" x2="220.2" y2="168.79" stroke="#444" stroke-width="0.5"/>
<line x1="219.1" y1="164.86" x2="220.2" y2="164.86" stroke="#444" stroke-width="0.5"/>
<line x1="219.1" y1="162.07" x2="220.2" y2="162.07" stroke="#444" stroke-width="0.5"/>
<line x1="219.1" y1="159.91" x2="220.2" y2="159.91" stroke="#444" stroke-width="0.5"/>
<line x1="219.1" y1="158.15" x2="220.2" y2="158.15" stroke="#444" stroke-width="0.5"/>
<line x1="219.1" y1="156.65" x2="220.2" y2="156.65" stroke="#444" stroke-width="0.5"/>
<line x1="218.2" y1="175.50" x2="220.2" y2="175.50" stroke="#333" stroke-width="0.7"/>
<text x="217" y="178.8" font-size="9.6" text-anchor="end" font-weight="normal" fill="#222" font-family='"Liberation Serif", serif'  stroke="#222" stroke-width="0.2">1000</text>
<line x1="218.2" y1="197.80" x2="220.2" y2="197.80" stroke="#333" stroke-width="0.7"/>
<text x="217" y="201.1" font-size="9.6" text-anchor="end" font-weight="normal" fill="#222" font-family='"Liberation Serif", serif'  stroke="#222" stroke-width="0.2">100</text>
<line x1="218.2" y1="220.10" x2="220.2" y2="220.10" stroke="#333" stroke-width="0.7"/>
<text x="217" y="223.4" font-size="9.6" text-anchor="end" font-weight="normal" fill="#222" font-family='"Liberation Serif", serif'  stroke="#222" stroke-width="0.2">10</text>
<line x1="218.2" y1="242.40" x2="220.2" y2="242.40" stroke="#333" stroke-width="0.7"/>
<text x="217" y="245.7" font-size="9.6" text-anchor="end" font-weight="normal" fill="#222" font-family='"Liberation Serif", serif'  stroke="#222" stroke-width="0.2">1</text>
<line x1="218.2" y1="264.70" x2="220.2" y2="264.70" stroke="#333" stroke-width="0.7"/>
<text x="217" y="268.0" font-size="9.6" text-anchor="end" font-weight="normal" fill="#222" font-family='"Liberation Serif", serif'  stroke="#222" stroke-width="0.2">0.1</text>
<text x="285.5" y="285.5" font-size="11.6" text-anchor="middle" font-weight="normal" fill="#222" font-family='"Liberation Serif", serif' textLength="87.3" lengthAdjust="spacingAndGlyphs" stroke="#222" stroke-width="0.35">Wavelength (nm)</text>
<text x="0" y="0" font-size="12" text-anchor="middle" font-weight="normal" fill="#222" font-family='"Liberation Serif", serif' transform="translate(201.2,216.9) rotate(-90)" textLength="49" lengthAdjust="spacingAndGlyphs" stroke="#222" stroke-width="0.35">Time (ps)</text>
<text x="213.2" y="152.9" font-size="13" text-anchor="middle" font-weight="normal" fill="#222" font-family='"Liberation Serif", serif'  stroke="#222" stroke-width="0.2">e</text>
<rect x="345.7" y="155.6" width="8.3" height="108.9" fill="url(#cbarE)"/>
<text x="357" y="158.9" font-size="6.8" font-weight="bold" fill="#222" font-family='"Liberation Serif", serif'>3.2x10<tspan font-size="4.4" dy="-2.8">-2</tspan></text>
<text x="357" y="169.0" font-size="6.8" font-weight="bold" fill="#222" font-family='"Liberation Serif", serif'>2.6x10<tspan font-size="4.4" dy="-2.8">-2</tspan></text>
<text x="357" y="185.70000000000002" font-size="6.8" font-weight="bold" fill="#222" font-family='"Liberation Serif", serif'>1.8x10<tspan font-size="4.4" dy="-2.8">-2</tspan></text>
<text x="357" y="201.9" font-size="6.8" font-weight="bold" fill="#222" font-family='"Liberation Serif", serif'>9.0x10<tspan font-size="4.4" dy="-2.8">-3</tspan></text>
<text x="357" y="216.60000000000002" font-size="6.8" font-weight="bold" fill="#222" font-family='"Liberation Serif", serif'>3.2x10<tspan font-size="4.4" dy="-2.8">-3</tspan></text>
<text x="357" y="233.8" font-size="6.8" font-weight="bold" fill="#222" font-family='"Liberation Serif", serif'>-8.3x10<tspan font-size="4.4" dy="-2.8">-3</tspan></text>
<text x="357" y="250.20000000000002" font-size="6.8" font-weight="bold" fill="#222" font-family='"Liberation Serif", serif'>-1.7x10<tspan font-size="4.4" dy="-2.8">-2</tspan></text>
<text x="357" y="266.3" font-size="6.8" font-weight="bold" fill="#222" font-family='"Liberation Serif", serif'>-2.6x10<tspan font-size="4.4" dy="-2.8">-2</tspan></text>
<path d="M405.5,160.7 L405.5,258.2 L467.3,258.2 M469.3,258.2 L531.6,258.2 L531.6,160.7 L469.3,160.7 M467.3,160.7 L405.5,160.7" fill="none" stroke="#444" stroke-width="1.2"/>
<line x1="465.8" y1="162.0" x2="468.3" y2="159.39999999999998" stroke="#222" stroke-width="0.6"/>
<line x1="468.3" y1="162.0" x2="470.8" y2="159.39999999999998" stroke="#222" stroke-width="0.6"/>
<line x1="465.8" y1="259.5" x2="468.3" y2="256.9" stroke="#222" stroke-width="0.6"/>
<line x1="468.3" y1="259.5" x2="470.8" y2="256.9" stroke="#222" stroke-width="0.6"/>
<line x1="410.60" y1="258.2" x2="410.60" y2="260.2" stroke="#444" stroke-width="0.7"/>
<text x="410.6" y="267.4" font-size="7.1" text-anchor="middle" font-weight="normal" fill="#222" font-family='"Liberation Serif", serif'  stroke="#222" stroke-width="0.2">0</text>
<line x1="421.94" y1="258.2" x2="421.94" y2="260.2" stroke="#444" stroke-width="0.7"/>
<text x="421.94" y="267.4" font-size="7.1" text-anchor="middle" font-weight="normal" fill="#222" font-family='"Liberation Serif", serif'  stroke="#222" stroke-width="0.2">2</text>
<line x1="433.28" y1="258.2" x2="433.28" y2="260.2" stroke="#444" stroke-width="0.7"/>
<text x="433.28" y="267.4" font-size="7.1" text-anchor="middle" font-weight="normal" fill="#222" font-family='"Liberation Serif", serif'  stroke="#222" stroke-width="0.2">4</text>
<line x1="444.62" y1="258.2" x2="444.62" y2="260.2" stroke="#444" stroke-width="0.7"/>
<text x="444.62" y="267.4" font-size="7.1" text-anchor="middle" font-weight="normal" fill="#222" font-family='"Liberation Serif", serif'  stroke="#222" stroke-width="0.2">6</text>
<line x1="455.96" y1="258.2" x2="455.96" y2="260.2" stroke="#444" stroke-width="0.7"/>
<text x="455.96" y="267.4" font-size="7.1" text-anchor="middle" font-weight="normal" fill="#222" font-family='"Liberation Serif", serif'  stroke="#222" stroke-width="0.2">8</text>
<line x1="416.27" y1="258.2" x2="416.27" y2="259.4" stroke="#444" stroke-width="0.7"/>
<line x1="427.61" y1="258.2" x2="427.61" y2="259.4" stroke="#444" stroke-width="0.7"/>
<line x1="438.95" y1="258.2" x2="438.95" y2="259.4" stroke="#444" stroke-width="0.7"/>
<line x1="450.29" y1="258.2" x2="450.29" y2="259.4" stroke="#444" stroke-width="0.7"/>
<line x1="461.63" y1="258.2" x2="461.63" y2="259.4" stroke="#444" stroke-width="0.7"/>
<line x1="479.50" y1="258.2" x2="479.50" y2="260.2" stroke="#444" stroke-width="0.7"/>
<text x="479.5" y="267.4" font-size="7.1" text-anchor="middle" font-weight="normal" fill="#222" font-family='"Liberation Serif", serif'  stroke="#222" stroke-width="0.2">2000</text>
<line x1="499.70" y1="258.2" x2="499.70" y2="260.2" stroke="#444" stroke-width="0.7"/>
<text x="499.7" y="267.4" font-size="7.1" text-anchor="middle" font-weight="normal" fill="#222" font-family='"Liberation Serif", serif'  stroke="#222" stroke-width="0.2">4000</text>
<line x1="519.90" y1="258.2" x2="519.90" y2="260.2" stroke="#444" stroke-width="0.7"/>
<text x="519.9" y="267.4" font-size="7.1" text-anchor="middle" font-weight="normal" fill="#222" font-family='"Liberation Serif", serif'  stroke="#222" stroke-width="0.2">6000</text>
<line x1="489.60" y1="258.2" x2="489.60" y2="259.4" stroke="#444" stroke-width="0.7"/>
<line x1="509.80" y1="258.2" x2="509.80" y2="259.4" stroke="#444" stroke-width="0.7"/>
<line x1="530.00" y1="258.2" x2="530.00" y2="259.4" stroke="#444" stroke-width="0.7"/>
<line x1="403.5" y1="172.78" x2="405.5" y2="172.78" stroke="#444" stroke-width="0.7"/>
<text x="402" y="175.18" font-size="7.1" text-anchor="end" font-weight="normal" fill="#222" font-family='"Liberation Serif", serif'  stroke="#222" stroke-width="0.2">0.4</text>
<line x1="403.5" y1="195.50" x2="405.5" y2="195.50" stroke="#444" stroke-width="0.7"/>
<text x="402" y="197.9" font-size="7.1" text-anchor="end" font-weight="normal" fill="#222" font-family='"Liberation Serif", serif'  stroke="#222" stroke-width="0.2">0.0</text>
<line x1="403.5" y1="218.22" x2="405.5" y2="218.22" stroke="#444" stroke-width="0.7"/>
<text x="402" y="220.62" font-size="7.1" text-anchor="end" font-weight="normal" fill="#222" font-family='"Liberation Serif", serif'  stroke="#222" stroke-width="0.2">-0.4</text>
<line x1="403.5" y1="240.94" x2="405.5" y2="240.94" stroke="#444" stroke-width="0.7"/>
<text x="402" y="243.34" font-size="7.1" text-anchor="end" font-weight="normal" fill="#222" font-family='"Liberation Serif", serif'  stroke="#222" stroke-width="0.2">-0.8</text>
<line x1="404.3" y1="184.14" x2="405.5" y2="184.14" stroke="#444" stroke-width="0.7"/>
<line x1="404.3" y1="206.86" x2="405.5" y2="206.86" stroke="#444" stroke-width="0.7"/>
<line x1="404.3" y1="229.58" x2="405.5" y2="229.58" stroke="#444" stroke-width="0.7"/>
<line x1="404.3" y1="252.30" x2="405.5" y2="252.30" stroke="#444" stroke-width="0.7"/>
<text x="469.8" y="276.2" font-size="11.8" text-anchor="middle" font-weight="normal" fill="#222" font-family='"Liberation Serif", serif' textLength="44.5" lengthAdjust="spacingAndGlyphs" stroke="#222" stroke-width="0.3">Time (ps)</text>
<text x="0" y="0" font-size="11.5" text-anchor="middle" font-weight="normal" fill="#222" font-family='"Liberation Serif", serif' transform="translate(390.3,206.5) rotate(-90)" textLength="72.8" lengthAdjust="spacingAndGlyphs" stroke="#222" stroke-width="0.25">Normalized &#916;A</text>
<text x="393.2" y="155.4" font-size="12.5" text-anchor="middle" font-weight="normal" fill="#222" font-family='"Liberation Serif", serif'  stroke="#222" stroke-width="0.2">f</text>
<circle cx="421" cy="165.2" r="1.6" fill="none" stroke="#2a3cff" stroke-width="0.6"/>
<line x1="415" y1="173.4" x2="428.3" y2="173.4" stroke="#2a3cff" stroke-width="1.1"/>
<polygon points="421,179.6 419.1,182.8 422.9,182.8" fill="none" stroke="#ff2a2a" stroke-width="0.6"/>
<line x1="415" y1="190.9" x2="428.3" y2="190.9" stroke="#ff2a2a" stroke-width="1.1"/>
<text x="429" y="166.9" font-size="5.45" fill="#222" font-family='"Liberation Serif", serif'>Cs<tspan font-size="3.8" dy="1.2">3</tspan><tspan dy="-1.2">Bi</tspan><tspan font-size="3.8" dy="1.2">2</tspan><tspan dy="-1.2">Br</tspan><tspan font-size="3.8" dy="1.2">9</tspan><tspan dy="-1.2"> at 455 nm</tspan></text>
<text x="429" y="176" font-size="5.45" fill="#222" font-family='"Liberation Serif", serif'>Fitting</text>
<text x="429" y="183.8" font-size="5.45" fill="#222" font-family='"Liberation Serif", serif'>Cs<tspan font-size="3.8" dy="1.2">3</tspan><tspan dy="-1.2">Bi</tspan><tspan font-size="3.8" dy="1.2">2</tspan><tspan dy="-1.2">Br</tspan><tspan font-size="3.8" dy="1.2">9</tspan><tspan dy="-1.2">/MOF525Co at 450 nm</tspan></text>
<text x="429" y="193.2" font-size="5.45" fill="#222" font-family='"Liberation Serif", serif'>Fitting</text>
<circle cx="406.06" cy="197.09" r="1.75" fill="none" stroke="#2a3cff" stroke-width="0.7"/>
<circle cx="406.63" cy="198.13" r="1.75" fill="none" stroke="#2a3cff" stroke-width="0.7"/>
<circle cx="407.20" cy="195.99" r="1.75" fill="none" stroke="#2a3cff" stroke-width="0.7"/>
<circle cx="407.77" cy="194.66" r="1.75" fill="none" stroke="#2a3cff" stroke-width="0.7"/>
<circle cx="408.33" cy="193.24" r="1.75" fill="none" stroke="#2a3cff" stroke-width="0.7"/>
<circle cx="408.90" cy="195.28" r="1.75" fill="none" stroke="#2a3cff" stroke-width="0.7"/>
<circle cx="409.47" cy="196.60" r="1.75" fill="none" stroke="#2a3cff" stroke-width="0.7"/>
<circle cx="410.03" cy="197.06" r="1.75" fill="none" stroke="#2a3cff" stroke-width="0.7"/>
<circle cx="410.60" cy="194.01" r="1.75" fill="none" stroke="#2a3cff" stroke-width="0.7"/>
<circle cx="411.17" cy="233.06" r="1.75" fill="none" stroke="#2a3cff" stroke-width="0.7"/>
<circle cx="411.73" cy="248.15" r="1.75" fill="none" stroke="#2a3cff" stroke-width="0.7"/>
<circle cx="412.30" cy="254.39" r="1.75" fill="none" stroke="#2a3cff" stroke-width="0.7"/>
<circle cx="412.58" cy="254.18" r="1.75" fill="none" stroke="#2a3cff" stroke-width="0.7"/>
<circle cx="413.14" cy="248.82" r="1.75" fill="none" stroke="#2a3cff" stroke-width="0.7"/>
<circle cx="413.70" cy="250.83" r="1.75" fill="none" stroke="#2a3cff" stroke-width="0.7"/>
<circle cx="414.26" cy="253.75" r="1.75" fill="none" stroke="#2a3cff" stroke-width="0.7"/>
<circle cx="414.82" cy="249.53" r="1.75" fill="none" stroke="#2a3cff" stroke-width="0.7"/>
<circle cx="415.37" cy="250.73" r="1.75" fill="none" stroke="#2a3cff" stroke-width="0.7"/>
<circle cx="415.93" cy="248.76" r="1.75" fill="none" stroke="#2a3cff" stroke-width="0.7"/>
<circle cx="416.49" cy="247.58" r="1.75" fill="none" stroke="#2a3cff" stroke-width="0.7"/>
<circle cx="417.05" cy="247.17" r="1.75" fill="none" stroke="#2a3cff" stroke-width="0.7"/>
<circle cx="417.61" cy="243.81" r="1.75" fill="none" stroke="#2a3cff" stroke-width="0.7"/>
<circle cx="418.16" cy="244.22" r="1.75" fill="none" stroke="#2a3cff" stroke-width="0.7"/>
<circle cx="418.72" cy="244.48" r="1.75" fill="none" stroke="#2a3cff" stroke-width="0.7"/>
<circle cx="419.28" cy="241.72" r="1.75" fill="none" stroke="#2a3cff" stroke-width="0.7"/>
<circle cx="419.84" cy="240.14" r="1.75" fill="none" stroke="#2a3cff" stroke-width="0.7"/>
<circle cx="420.40" cy="244.34" r="1.75" fill="none" stroke="#2a3cff" stroke-width="0.7"/>
<circle cx="420.95" cy="240.88" r="1.75" fill="none" stroke="#2a3cff" stroke-width="0.7"/>
<circle cx="421.51" cy="241.64" r="1.75" fill="none" stroke="#2a3cff" stroke-width="0.7"/>
<circle cx="422.07" cy="239.38" r="1.75" fill="none" stroke="#2a3cff" stroke-width="0.7"/>
<circle cx="422.63" cy="240.96" r="1.75" fill="none" stroke="#2a3cff" stroke-width="0.7"/>
<circle cx="423.19" cy="237.73" r="1.75" fill="none" stroke="#2a3cff" stroke-width="0.7"/>
<circle cx="423.74" cy="237.25" r="1.75" fill="none" stroke="#2a3cff" stroke-width="0.7"/>
<circle cx="424.30" cy="237.19" r="1.75" fill="none" stroke="#2a3cff" stroke-width="0.7"/>
<circle cx="424.86" cy="238.10" r="1.75" fill="none" stroke="#2a3cff" stroke-width="0.7"/>
<circle cx="425.42" cy="236.26" r="1.75" fill="none" stroke="#2a3cff" stroke-width="0.7"/>
<circle cx="425.98" cy="237.11" r="1.75" fill="none" stroke="#2a3cff" stroke-width="0.7"/>
<circle cx="426.53" cy="237.11" r="1.75" fill="none" stroke="#2a3cff" stroke-width="0.7"/>
<circle cx="427.09" cy="233.47" r="1.75" fill="none" stroke="#2a3cff" stroke-width="0.7"/>
<circle cx="427.65" cy="235.64" r="1.75" fill="none" stroke="#2a3cff" stroke-width="0.7"/>
<circle cx="428.21" cy="230.63" r="1.75" fill="none" stroke="#2a3cff" stroke-width="0.7"/>
<circle cx="428.77" cy="231.07" r="1.75" fill="none" stroke="#2a3cff" stroke-width="0.7"/>
<circle cx="429.32" cy="236.02" r="1.75" fill="none" stroke="#2a3cff" stroke-width="0.7"/>
<circle cx="429.88" cy="231.08" r="1.75" fill="none" stroke="#2a3cff" stroke-width="0.7"/>
<circle cx="430.44" cy="233.39" r="1.75" fill="none" stroke="#2a3cff" stroke-width="0.7"/>
<circle cx="431.00" cy="230.73" r="1.75" fill="none" stroke="#2a3cff" stroke-width="0.7"/>
<circle cx="431.55" cy="230.31" r="1.75" fill="none" stroke="#2a3cff" stroke-width="0.7"/>
<circle cx="432.11" cy="233.97" r="1.75" fill="none" stroke="#2a3cff" stroke-width="0.7"/>
<circle cx="432.67" cy="230.11" r="1.75" fill="none" stroke="#2a3cff" stroke-width="0.7"/>
<circle cx="433.23" cy="229.79" r="1.75" fill="none" stroke="#2a3cff" stroke-width="0.7"/>
<circle cx="433.79" cy="227.02" r="1.75" fill="none" stroke="#2a3cff" stroke-width="0.7"/>
<circle cx="434.34" cy="230.94" r="1.75" fill="none" stroke="#2a3cff" stroke-width="0.7"/>
<circle cx="434.90" cy="226.79" r="1.75" fill="none" stroke="#2a3cff" stroke-width="0.7"/>
<circle cx="435.46" cy="230.12" r="1.75" fill="none" stroke="#2a3cff" stroke-width="0.7"/>
<circle cx="436.02" cy="228.28" r="1.75" fill="none" stroke="#2a3cff" stroke-width="0.7"/>
<circle cx="436.58" cy="228.99" r="1.75" fill="none" stroke="#2a3cff" stroke-width="0.7"/>
<circle cx="437.13" cy="224.15" r="1.75" fill="none" stroke="#2a3cff" stroke-width="0.7"/>
<circle cx="437.69" cy="225.61" r="1.75" fill="none" stroke="#2a3cff" stroke-width="0.7"/>
<circle cx="438.25" cy="221.63" r="1.75" fill="none" stroke="#2a3cff" stroke-width="0.7"/>
<circle cx="438.81" cy="224.92" r="1.75" fill="none" stroke="#2a3cff" stroke-width="0.7"/>
<circle cx="439.37" cy="224.26" r="1.75" fill="none" stroke="#2a3cff" stroke-width="0.7"/>
<circle cx="439.92" cy="224.01" r="1.75" fill="none" stroke="#2a3cff" stroke-width="0.7"/>
<circle cx="440.48" cy="226.64" r="1.75" fill="none" stroke="#2a3cff" stroke-width="0.7"/>
<circle cx="441.04" cy="225.34" r="1.75" fill="none" stroke="#2a3cff" stroke-width="0.7"/>
<circle cx="441.60" cy="222.28" r="1.75" fill="none" stroke="#2a3cff" stroke-width="0.7"/>
<circle cx="442.16" cy="225.53" r="1.75" fill="none" stroke="#2a3cff" stroke-width="0.7"/>
<circle cx="442.71" cy="224.15" r="1.75" fill="none" stroke="#2a3cff" stroke-width="0.7"/>
<circle cx="443.27" cy="224.35" r="1.75" fill="none" stroke="#2a3cff" stroke-width="0.7"/>
<circle cx="443.83" cy="222.89" r="1.75" fill="none" stroke="#2a3cff" stroke-width="0.7"/>
<circle cx="444.39" cy="224.63" r="1.75" fill="none" stroke="#2a3cff" stroke-width="0.7"/>
<circle cx="444.95" cy="224.01" r="1.75" fill="none" stroke="#2a3cff" stroke-width="0.7"/>
<circle cx="445.50" cy="223.04" r="1.75" fill="none" stroke="#2a3cff" stroke-width="0.7"/>
<circle cx="446.06" cy="223.13" r="1.75" fill="none" stroke="#2a3cff" stroke-width="0.7"/>
<circle cx="446.62" cy="224.87" r="1.75" fill="none" stroke="#2a3cff" stroke-width="0.7"/>
<circle cx="447.18" cy="221.20" r="1.75" fill="none" stroke="#2a3cff" stroke-width="0.7"/>
<circle cx="447.74" cy="225.39" r="1.75" fill="none" stroke="#2a3cff" stroke-width="0.7"/>
<circle cx="448.29" cy="225.04" r="1.75" fill="none" stroke="#2a3cff" stroke-width="0.7"/>
<circle cx="448.85" cy="225.04" r="1.75" fill="none" stroke="#2a3cff" stroke-width="0.7"/>
<circle cx="449.41" cy="220.41" r="1.75" fill="none" stroke="#2a3cff" stroke-width="0.7"/>
<circle cx="449.97" cy="222.90" r="1.75" fill="none" stroke="#2a3cff" stroke-width="0.7"/>
<circle cx="450.53" cy="223.97" r="1.75" fill="none" stroke="#2a3cff" stroke-width="0.7"/>
<circle cx="451.08" cy="224.15" r="1.75" fill="none" stroke="#2a3cff" stroke-width="0.7"/>
<circle cx="451.64" cy="220.92" r="1.75" fill="none" stroke="#2a3cff" stroke-width="0.7"/>
<circle cx="452.20" cy="223.72" r="1.75" fill="none" stroke="#2a3cff" stroke-width="0.7"/>
<circle cx="452.76" cy="224.02" r="1.75" fill="none" stroke="#2a3cff" stroke-width="0.7"/>
<circle cx="453.32" cy="220.15" r="1.75" fill="none" stroke="#2a3cff" stroke-width="0.7"/>
<circle cx="453.87" cy="223.62" r="1.75" fill="none" stroke="#2a3cff" stroke-width="0.7"/>
<circle cx="454.43" cy="221.76" r="1.75" fill="none" stroke="#2a3cff" stroke-width="0.7"/>
<circle cx="454.99" cy="221.02" r="1.75" fill="none" stroke="#2a3cff" stroke-width="0.7"/>
<circle cx="455.55" cy="221.78" r="1.75" fill="none" stroke="#2a3cff" stroke-width="0.7"/>
<circle cx="456.10" cy="220.89" r="1.75" fill="none" stroke="#2a3cff" stroke-width="0.7"/>
<circle cx="456.66" cy="218.01" r="1.75" fill="none" stroke="#2a3cff" stroke-width="0.7"/>
<circle cx="457.22" cy="221.60" r="1.75" fill="none" stroke="#2a3cff" stroke-width="0.7"/>
<circle cx="457.78" cy="222.97" r="1.75" fill="none" stroke="#2a3cff" stroke-width="0.7"/>
<circle cx="458.34" cy="224.02" r="1.75" fill="none" stroke="#2a3cff" stroke-width="0.7"/>
<circle cx="458.89" cy="220.68" r="1.75" fill="none" stroke="#2a3cff" stroke-width="0.7"/>
<circle cx="459.45" cy="220.88" r="1.75" fill="none" stroke="#2a3cff" stroke-width="0.7"/>
<circle cx="460.01" cy="219.56" r="1.75" fill="none" stroke="#2a3cff" stroke-width="0.7"/>
<circle cx="460.57" cy="220.92" r="1.75" fill="none" stroke="#2a3cff" stroke-width="0.7"/>
<circle cx="461.13" cy="220.86" r="1.75" fill="none" stroke="#2a3cff" stroke-width="0.7"/>
<circle cx="461.68" cy="221.26" r="1.75" fill="none" stroke="#2a3cff" stroke-width="0.7"/>
<circle cx="462.24" cy="220.78" r="1.75" fill="none" stroke="#2a3cff" stroke-width="0.7"/>
<circle cx="462.80" cy="219.35" r="1.75" fill="none" stroke="#2a3cff" stroke-width="0.7"/>
<circle cx="463.36" cy="220.35" r="1.75" fill="none" stroke="#2a3cff" stroke-width="0.7"/>
<circle cx="463.92" cy="219.31" r="1.75" fill="none" stroke="#2a3cff" stroke-width="0.7"/>
<circle cx="464.47" cy="215.66" r="1.75" fill="none" stroke="#2a3cff" stroke-width="0.7"/>
<circle cx="465.03" cy="218.42" r="1.75" fill="none" stroke="#2a3cff" stroke-width="0.7"/>
<circle cx="470.21" cy="206.62" r="1.75" fill="none" stroke="#2a3cff" stroke-width="0.7"/>
<circle cx="471.34" cy="201.84" r="1.75" fill="none" stroke="#2a3cff" stroke-width="0.7"/>
<circle cx="472.48" cy="203.61" r="1.75" fill="none" stroke="#2a3cff" stroke-width="0.7"/>
<circle cx="473.61" cy="205.25" r="1.75" fill="none" stroke="#2a3cff" stroke-width="0.7"/>
<circle cx="474.75" cy="202.53" r="1.75" fill="none" stroke="#2a3cff" stroke-width="0.7"/>
<circle cx="475.88" cy="203.62" r="1.75" fill="none" stroke="#2a3cff" stroke-width="0.7"/>
<circle cx="477.02" cy="204.37" r="1.75" fill="none" stroke="#2a3cff" stroke-width="0.7"/>
<circle cx="478.16" cy="204.26" r="1.75" fill="none" stroke="#2a3cff" stroke-width="0.7"/>
<circle cx="479.29" cy="204.63" r="1.75" fill="none" stroke="#2a3cff" stroke-width="0.7"/>
<circle cx="480.43" cy="203.06" r="1.75" fill="none" stroke="#2a3cff" stroke-width="0.7"/>
<circle cx="481.56" cy="201.52" r="1.75" fill="none" stroke="#2a3cff" stroke-width="0.7"/>
<circle cx="482.70" cy="203.34" r="1.75" fill="none" stroke="#2a3cff" stroke-width="0.7"/>
<circle cx="483.83" cy="202.20" r="1.75" fill="none" stroke="#2a3cff" stroke-width="0.7"/>
<circle cx="484.97" cy="200.07" r="1.75" fill="none" stroke="#2a3cff" stroke-width="0.7"/>
<circle cx="486.10" cy="204.26" r="1.75" fill="none" stroke="#2a3cff" stroke-width="0.7"/>
<circle cx="487.24" cy="202.12" r="1.75" fill="none" stroke="#2a3cff" stroke-width="0.7"/>
<circle cx="488.37" cy="202.81" r="1.75" fill="none" stroke="#2a3cff" stroke-width="0.7"/>
<circle cx="489.51" cy="203.76" r="1.75" fill="none" stroke="#2a3cff" stroke-width="0.7"/>
<circle cx="490.64" cy="203.63" r="1.75" fill="none" stroke="#2a3cff" stroke-width="0.7"/>
<circle cx="491.78" cy="202.14" r="1.75" fill="none" stroke="#2a3cff" stroke-width="0.7"/>
<circle cx="492.91" cy="201.43" r="1.75" fill="none" stroke="#2a3cff" stroke-width="0.7"/>
<circle cx="494.05" cy="202.69" r="1.75" fill="none" stroke="#2a3cff" stroke-width="0.7"/>
<circle cx="495.18" cy="201.80" r="1.75" fill="none" stroke="#2a3cff" stroke-width="0.7"/>
<circle cx="496.32" cy="200.80" r="1.75" fill="none" stroke="#2a3cff" stroke-width="0.7"/>
<circle cx="497.46" cy="201.32" r="1.75" fill="none" stroke="#2a3cff" stroke-width="0.7"/>
<circle cx="498.59" cy="200.46" r="1.75" fill="none" stroke="#2a3cff" stroke-width="0.7"/>
<circle cx="499.73" cy="200.96" r="1.75" fill="none" stroke="#2a3cff" stroke-width="0.7"/>
<circle cx="500.86" cy="200.86" r="1.75" fill="none" stroke="#2a3cff" stroke-width="0.7"/>
<circle cx="502.00" cy="198.94" r="1.75" fill="none" stroke="#2a3cff" stroke-width="0.7"/>
<circle cx="503.13" cy="200.55" r="1.75" fill="none" stroke="#2a3cff" stroke-width="0.7"/>
<circle cx="504.27" cy="201.18" r="1.75" fill="none" stroke="#2a3cff" stroke-width="0.7"/>
<circle cx="505.40" cy="200.32" r="1.75" fill="none" stroke="#2a3cff" stroke-width="0.7"/>
<circle cx="506.54" cy="202.54" r="1.75" fill="none" stroke="#2a3cff" stroke-width="0.7"/>
<circle cx="507.67" cy="201.68" r="1.75" fill="none" stroke="#2a3cff" stroke-width="0.7"/>
<circle cx="508.81" cy="200.05" r="1.75" fill="none" stroke="#2a3cff" stroke-width="0.7"/>
<circle cx="509.94" cy="200.23" r="1.75" fill="none" stroke="#2a3cff" stroke-width="0.7"/>
<circle cx="511.08" cy="198.91" r="1.75" fill="none" stroke="#2a3cff" stroke-width="0.7"/>
<circle cx="512.21" cy="201.01" r="1.75" fill="none" stroke="#2a3cff" stroke-width="0.7"/>
<circle cx="513.35" cy="203.02" r="1.75" fill="none" stroke="#2a3cff" stroke-width="0.7"/>
<circle cx="514.49" cy="198.23" r="1.75" fill="none" stroke="#2a3cff" stroke-width="0.7"/>
<circle cx="515.62" cy="199.38" r="1.75" fill="none" stroke="#2a3cff" stroke-width="0.7"/>
<circle cx="516.76" cy="202.34" r="1.75" fill="none" stroke="#2a3cff" stroke-width="0.7"/>
<circle cx="517.89" cy="198.92" r="1.75" fill="none" stroke="#2a3cff" stroke-width="0.7"/>
<circle cx="519.03" cy="200.75" r="1.75" fill="none" stroke="#2a3cff" stroke-width="0.7"/>
<circle cx="520.16" cy="203.29" r="1.75" fill="none" stroke="#2a3cff" stroke-width="0.7"/>
<circle cx="521.30" cy="201.31" r="1.75" fill="none" stroke="#2a3cff" stroke-width="0.7"/>
<circle cx="522.43" cy="201.41" r="1.75" fill="none" stroke="#2a3cff" stroke-width="0.7"/>
<circle cx="523.57" cy="198.46" r="1.75" fill="none" stroke="#2a3cff" stroke-width="0.7"/>
<circle cx="524.70" cy="201.74" r="1.75" fill="none" stroke="#2a3cff" stroke-width="0.7"/>
<circle cx="525.84" cy="200.97" r="1.75" fill="none" stroke="#2a3cff" stroke-width="0.7"/>
<circle cx="526.97" cy="200.97" r="1.75" fill="none" stroke="#2a3cff" stroke-width="0.7"/>
<circle cx="528.11" cy="201.09" r="1.75" fill="none" stroke="#2a3cff" stroke-width="0.7"/>
<circle cx="529.24" cy="201.81" r="1.75" fill="none" stroke="#2a3cff" stroke-width="0.7"/>
<circle cx="530.38" cy="200.21" r="1.75" fill="none" stroke="#2a3cff" stroke-width="0.7"/>
<circle cx="531.51" cy="198.99" r="1.75" fill="none" stroke="#2a3cff" stroke-width="0.7"/>
<polygon points="406.06,191.11 404.26,194.31 407.86,194.31" fill="none" stroke="#ff2a2a" stroke-width="0.7"/>
<polygon points="406.63,189.46 404.83,192.66 408.43,192.66" fill="none" stroke="#ff2a2a" stroke-width="0.7"/>
<polygon points="407.20,199.30 405.40,202.50 409.00,202.50" fill="none" stroke="#ff2a2a" stroke-width="0.7"/>
<polygon points="407.77,193.81 405.97,197.01 409.57,197.01" fill="none" stroke="#ff2a2a" stroke-width="0.7"/>
<polygon points="408.33,191.20 406.53,194.40 410.13,194.40" fill="none" stroke="#ff2a2a" stroke-width="0.7"/>
<polygon points="408.90,190.43 407.10,193.63 410.70,193.63" fill="none" stroke="#ff2a2a" stroke-width="0.7"/>
<polygon points="409.47,192.01 407.67,195.21 411.27,195.21" fill="none" stroke="#ff2a2a" stroke-width="0.7"/>
<polygon points="410.03,190.10 408.23,193.30 411.83,193.30" fill="none" stroke="#ff2a2a" stroke-width="0.7"/>
<polygon points="410.60,192.84 408.80,196.04 412.40,196.04" fill="none" stroke="#ff2a2a" stroke-width="0.7"/>
<polygon points="411.17,234.40 409.37,237.60 412.97,237.60" fill="none" stroke="#ff2a2a" stroke-width="0.7"/>
<polygon points="411.73,247.30 409.93,250.50 413.53,250.50" fill="none" stroke="#ff2a2a" stroke-width="0.7"/>
<polygon points="412.30,252.69 410.50,255.89 414.10,255.89" fill="none" stroke="#ff2a2a" stroke-width="0.7"/>
<polygon points="412.58,252.14 410.78,255.34 414.38,255.34" fill="none" stroke="#ff2a2a" stroke-width="0.7"/>
<polygon points="413.14,248.36 411.34,251.56 414.94,251.56" fill="none" stroke="#ff2a2a" stroke-width="0.7"/>
<polygon points="413.70,249.08 411.90,252.28 415.50,252.28" fill="none" stroke="#ff2a2a" stroke-width="0.7"/>
<polygon points="414.26,243.30 412.46,246.50 416.06,246.50" fill="none" stroke="#ff2a2a" stroke-width="0.7"/>
<polygon points="414.82,241.70 413.02,244.90 416.62,244.90" fill="none" stroke="#ff2a2a" stroke-width="0.7"/>
<polygon points="415.37,239.04 413.57,242.24 417.17,242.24" fill="none" stroke="#ff2a2a" stroke-width="0.7"/>
<polygon points="415.93,241.73 414.13,244.93 417.73,244.93" fill="none" stroke="#ff2a2a" stroke-width="0.7"/>
<polygon points="416.49,237.14 414.69,240.34 418.29,240.34" fill="none" stroke="#ff2a2a" stroke-width="0.7"/>
<polygon points="417.05,241.00 415.25,244.20 418.85,244.20" fill="none" stroke="#ff2a2a" stroke-width="0.7"/>
<polygon points="417.61,239.52 415.81,242.72 419.41,242.72" fill="none" stroke="#ff2a2a" stroke-width="0.7"/>
<polygon points="418.16,236.25 416.36,239.45 419.96,239.45" fill="none" stroke="#ff2a2a" stroke-width="0.7"/>
<polygon points="418.72,234.62 416.92,237.82 420.52,237.82" fill="none" stroke="#ff2a2a" stroke-width="0.7"/>
<polygon points="419.28,237.77 417.48,240.97 421.08,240.97" fill="none" stroke="#ff2a2a" stroke-width="0.7"/>
<polygon points="419.84,236.98 418.04,240.18 421.64,240.18" fill="none" stroke="#ff2a2a" stroke-width="0.7"/>
<polygon points="420.40,231.21 418.60,234.41 422.20,234.41" fill="none" stroke="#ff2a2a" stroke-width="0.7"/>
<polygon points="420.95,232.98 419.15,236.18 422.75,236.18" fill="none" stroke="#ff2a2a" stroke-width="0.7"/>
<polygon points="421.51,227.32 419.71,230.52 423.31,230.52" fill="none" stroke="#ff2a2a" stroke-width="0.7"/>
<polygon points="422.07,228.26 420.27,231.46 423.87,231.46" fill="none" stroke="#ff2a2a" stroke-width="0.7"/>
<polygon points="422.63,227.58 420.83,230.78 424.43,230.78" fill="none" stroke="#ff2a2a" stroke-width="0.7"/>
<polygon points="423.19,226.97 421.39,230.17 424.99,230.17" fill="none" stroke="#ff2a2a" stroke-width="0.7"/>
<polygon points="423.74,224.60 421.94,227.80 425.54,227.80" fill="none" stroke="#ff2a2a" stroke-width="0.7"/>
<polygon points="424.30,226.21 422.50,229.41 426.10,229.41" fill="none" stroke="#ff2a2a" stroke-width="0.7"/>
<polygon points="424.86,222.66 423.06,225.86 426.66,225.86" fill="none" stroke="#ff2a2a" stroke-width="0.7"/>
<polygon points="425.42,225.61 423.62,228.81 427.22,228.81" fill="none" stroke="#ff2a2a" stroke-width="0.7"/>
<polygon points="425.98,224.25 424.18,227.45 427.78,227.45" fill="none" stroke="#ff2a2a" stroke-width="0.7"/>
<polygon points="426.53,224.63 424.73,227.83 428.33,227.83" fill="none" stroke="#ff2a2a" stroke-width="0.7"/>
<polygon points="427.09,221.10 425.29,224.30 428.89,224.30" fill="none" stroke="#ff2a2a" stroke-width="0.7"/>
<polygon points="427.65,221.78 425.85,224.98 429.45,224.98" fill="none" stroke="#ff2a2a" stroke-width="0.7"/>
<polygon points="428.21,223.24 426.41,226.44 430.01,226.44" fill="none" stroke="#ff2a2a" stroke-width="0.7"/>
<polygon points="428.77,216.19 426.97,219.39 430.57,219.39" fill="none" stroke="#ff2a2a" stroke-width="0.7"/>
<polygon points="429.32,221.03 427.52,224.23 431.12,224.23" fill="none" stroke="#ff2a2a" stroke-width="0.7"/>
<polygon points="429.88,219.96 428.08,223.16 431.68,223.16" fill="none" stroke="#ff2a2a" stroke-width="0.7"/>
<polygon points="430.44,218.32 428.64,221.52 432.24,221.52" fill="none" stroke="#ff2a2a" stroke-width="0.7"/>
<polygon points="431.00,214.77 429.20,217.97 432.80,217.97" fill="none" stroke="#ff2a2a" stroke-width="0.7"/>
<polygon points="431.55,218.63 429.75,221.83 433.35,221.83" fill="none" stroke="#ff2a2a" stroke-width="0.7"/>
<polygon points="432.11,216.27 430.31,219.47 433.91,219.47" fill="none" stroke="#ff2a2a" stroke-width="0.7"/>
<polygon points="432.67,217.23 430.87,220.43 434.47,220.43" fill="none" stroke="#ff2a2a" stroke-width="0.7"/>
<polygon points="433.23,220.39 431.43,223.59 435.03,223.59" fill="none" stroke="#ff2a2a" stroke-width="0.7"/>
<polygon points="433.79,214.88 431.99,218.08 435.59,218.08" fill="none" stroke="#ff2a2a" stroke-width="0.7"/>
<polygon points="434.34,214.00 432.54,217.20 436.14,217.20" fill="none" stroke="#ff2a2a" stroke-width="0.7"/>
<polygon points="434.90,216.52 433.10,219.72 436.70,219.72" fill="none" stroke="#ff2a2a" stroke-width="0.7"/>
<polygon points="435.46,215.67 433.66,218.87 437.26,218.87" fill="none" stroke="#ff2a2a" stroke-width="0.7"/>
<polygon points="436.02,218.73 434.22,221.93 437.82,221.93" fill="none" stroke="#ff2a2a" stroke-width="0.7"/>
<polygon points="436.58,218.47 434.78,221.67 438.38,221.67" fill="none" stroke="#ff2a2a" stroke-width="0.7"/>
<polygon points="437.13,215.60 435.33,218.80 438.93,218.80" fill="none" stroke="#ff2a2a" stroke-width="0.7"/>
<polygon points="437.69,213.00 435.89,216.20 439.49,216.20" fill="none" stroke="#ff2a2a" stroke-width="0.7"/>
<polygon points="438.25,215.22 436.45,218.42 440.05,218.42" fill="none" stroke="#ff2a2a" stroke-width="0.7"/>
<polygon points="438.81,213.23 437.01,216.43 440.61,216.43" fill="none" stroke="#ff2a2a" stroke-width="0.7"/>
<polygon points="439.37,211.44 437.57,214.64 441.17,214.64" fill="none" stroke="#ff2a2a" stroke-width="0.7"/>
<polygon points="439.92,213.18 438.12,216.38 441.72,216.38" fill="none" stroke="#ff2a2a" stroke-width="0.7"/>
<polygon points="440.48,211.86 438.68,215.06 442.28,215.06" fill="none" stroke="#ff2a2a" stroke-width="0.7"/>
<polygon points="441.04,209.66 439.24,212.86 442.84,212.86" fill="none" stroke="#ff2a2a" stroke-width="0.7"/>
<polygon points="441.60,215.56 439.80,218.76 443.40,218.76" fill="none" stroke="#ff2a2a" stroke-width="0.7"/>
<polygon points="442.16,210.84 440.36,214.04 443.96,214.04" fill="none" stroke="#ff2a2a" stroke-width="0.7"/>
<polygon points="442.71,216.61 440.91,219.81 444.51,219.81" fill="none" stroke="#ff2a2a" stroke-width="0.7"/>
<polygon points="443.27,211.16 441.47,214.36 445.07,214.36" fill="none" stroke="#ff2a2a" stroke-width="0.7"/>
<polygon points="443.83,211.50 442.03,214.70 445.63,214.70" fill="none" stroke="#ff2a2a" stroke-width="0.7"/>
<polygon points="444.39,213.02 442.59,216.22 446.19,216.22" fill="none" stroke="#ff2a2a" stroke-width="0.7"/>
<polygon points="444.95,214.06 443.15,217.26 446.75,217.26" fill="none" stroke="#ff2a2a" stroke-width="0.7"/>
<polygon points="445.50,211.60 443.70,214.80 447.30,214.80" fill="none" stroke="#ff2a2a" stroke-width="0.7"/>
<polygon points="446.06,212.23 444.26,215.43 447.86,215.43" fill="none" stroke="#ff2a2a" stroke-width="0.7"/>
<polygon points="446.62,210.93 444.82,214.13 448.42,214.13" fill="none" stroke="#ff2a2a" stroke-width="0.7"/>
<polygon points="447.18,213.07 445.38,216.27 448.98,216.27" fill="none" stroke="#ff2a2a" stroke-width="0.7"/>
<polygon points="447.74,209.63 445.94,212.83 449.54,212.83" fill="none" stroke="#ff2a2a" stroke-width="0.7"/>
<polygon points="448.29,213.09 446.49,216.29 450.09,216.29" fill="none" stroke="#ff2a2a" stroke-width="0.7"/>
<polygon points="448.85,211.30 447.05,214.50 450.65,214.50" fill="none" stroke="#ff2a2a" stroke-width="0.7"/>
<polygon points="449.41,211.38 447.61,214.58 451.21,214.58" fill="none" stroke="#ff2a2a" stroke-width="0.7"/>
<polygon points="449.97,207.49 448.17,210.69 451.77,210.69" fill="none" stroke="#ff2a2a" stroke-width="0.7"/>
<polygon points="450.53,213.65 448.73,216.85 452.33,216.85" fill="none" stroke="#ff2a2a" stroke-width="0.7"/>
<polygon points="451.08,211.09 449.28,214.29 452.88,214.29" fill="none" stroke="#ff2a2a" stroke-width="0.7"/>
<polygon points="451.64,207.35 449.84,210.55 453.44,210.55" fill="none" stroke="#ff2a2a" stroke-width="0.7"/>
<polygon points="452.20,211.44 450.40,214.64 454.00,214.64" fill="none" stroke="#ff2a2a" stroke-width="0.7"/>
<polygon points="452.76,212.66 450.96,215.86 454.56,215.86" fill="none" stroke="#ff2a2a" stroke-width="0.7"/>
<polygon points="453.32,209.11 451.52,212.31 455.12,212.31" fill="none" stroke="#ff2a2a" stroke-width="0.7"/>
<polygon points="453.87,210.32 452.07,213.52 455.67,213.52" fill="none" stroke="#ff2a2a" stroke-width="0.7"/>
<polygon points="454.43,207.67 452.63,210.87 456.23,210.87" fill="none" stroke="#ff2a2a" stroke-width="0.7"/>
<polygon points="454.99,211.58 453.19,214.78 456.79,214.78" fill="none" stroke="#ff2a2a" stroke-width="0.7"/>
<polygon points="455.55,208.97 453.75,212.17 457.35,212.17" fill="none" stroke="#ff2a2a" stroke-width="0.7"/>
<polygon points="456.10,207.82 454.30,211.02 457.90,211.02" fill="none" stroke="#ff2a2a" stroke-width="0.7"/>
<polygon points="456.66,206.90 454.86,210.10 458.46,210.10" fill="none" stroke="#ff2a2a" stroke-width="0.7"/>
<polygon points="457.22,211.69 455.42,214.89 459.02,214.89" fill="none" stroke="#ff2a2a" stroke-width="0.7"/>
<polygon points="457.78,205.88 455.98,209.08 459.58,209.08" fill="none" stroke="#ff2a2a" stroke-width="0.7"/>
<polygon points="458.34,211.09 456.54,214.29 460.14,214.29" fill="none" stroke="#ff2a2a" stroke-width="0.7"/>
<polygon points="458.89,212.41 457.09,215.61 460.69,215.61" fill="none" stroke="#ff2a2a" stroke-width="0.7"/>
<polygon points="459.45,211.08 457.65,214.28 461.25,214.28" fill="none" stroke="#ff2a2a" stroke-width="0.7"/>
<polygon points="460.01,208.50 458.21,211.70 461.81,211.70" fill="none" stroke="#ff2a2a" stroke-width="0.7"/>
<polygon points="460.57,209.53 458.77,212.73 462.37,212.73" fill="none" stroke="#ff2a2a" stroke-width="0.7"/>
<polygon points="461.13,207.74 459.33,210.94 462.93,210.94" fill="none" stroke="#ff2a2a" stroke-width="0.7"/>
<polygon points="461.68,207.56 459.88,210.76 463.48,210.76" fill="none" stroke="#ff2a2a" stroke-width="0.7"/>
<polygon points="462.24,207.91 460.44,211.11 464.04,211.11" fill="none" stroke="#ff2a2a" stroke-width="0.7"/>
<polygon points="462.80,209.16 461.00,212.36 464.60,212.36" fill="none" stroke="#ff2a2a" stroke-width="0.7"/>
<polygon points="463.36,204.41 461.56,207.61 465.16,207.61" fill="none" stroke="#ff2a2a" stroke-width="0.7"/>
<polygon points="463.92,213.52 462.12,216.72 465.72,216.72" fill="none" stroke="#ff2a2a" stroke-width="0.7"/>
<polygon points="464.47,212.38 462.67,215.58 466.27,215.58" fill="none" stroke="#ff2a2a" stroke-width="0.7"/>
<polygon points="465.03,209.54 463.23,212.74 466.83,212.74" fill="none" stroke="#ff2a2a" stroke-width="0.7"/>
<polygon points="470.21,197.85 468.41,201.05 472.01,201.05" fill="none" stroke="#ff2a2a" stroke-width="0.7"/>
<polygon points="471.34,199.92 469.54,203.12 473.14,203.12" fill="none" stroke="#ff2a2a" stroke-width="0.7"/>
<polygon points="472.48,197.12 470.68,200.32 474.28,200.32" fill="none" stroke="#ff2a2a" stroke-width="0.7"/>
<polygon points="473.61,197.05 471.81,200.25 475.41,200.25" fill="none" stroke="#ff2a2a" stroke-width="0.7"/>
<polygon points="474.75,199.75 472.95,202.95 476.55,202.95" fill="none" stroke="#ff2a2a" stroke-width="0.7"/>
<polygon points="475.88,194.49 474.08,197.69 477.68,197.69" fill="none" stroke="#ff2a2a" stroke-width="0.7"/>
<polygon points="477.02,193.79 475.22,196.99 478.82,196.99" fill="none" stroke="#ff2a2a" stroke-width="0.7"/>
<polygon points="478.16,193.89 476.36,197.09 479.96,197.09" fill="none" stroke="#ff2a2a" stroke-width="0.7"/>
<polygon points="479.29,196.66 477.49,199.86 481.09,199.86" fill="none" stroke="#ff2a2a" stroke-width="0.7"/>
<polygon points="480.43,195.62 478.63,198.82 482.23,198.82" fill="none" stroke="#ff2a2a" stroke-width="0.7"/>
<polygon points="481.56,197.64 479.76,200.84 483.36,200.84" fill="none" stroke="#ff2a2a" stroke-width="0.7"/>
<polygon points="482.70,195.53 480.90,198.73 484.50,198.73" fill="none" stroke="#ff2a2a" stroke-width="0.7"/>
<polygon points="483.83,196.93 482.03,200.13 485.63,200.13" fill="none" stroke="#ff2a2a" stroke-width="0.7"/>
<polygon points="484.97,195.20 483.17,198.40 486.77,198.40" fill="none" stroke="#ff2a2a" stroke-width="0.7"/>
<polygon points="486.10,196.40 484.30,199.60 487.90,199.60" fill="none" stroke="#ff2a2a" stroke-width="0.7"/>
<polygon points="487.24,194.21 485.44,197.41 489.04,197.41" fill="none" stroke="#ff2a2a" stroke-width="0.7"/>
<polygon points="488.37,194.54 486.57,197.74 490.17,197.74" fill="none" stroke="#ff2a2a" stroke-width="0.7"/>
<polygon points="489.51,193.89 487.71,197.09 491.31,197.09" fill="none" stroke="#ff2a2a" stroke-width="0.7"/>
<polygon points="490.64,198.41 488.84,201.61 492.44,201.61" fill="none" stroke="#ff2a2a" stroke-width="0.7"/>
<polygon points="491.78,198.75 489.98,201.95 493.58,201.95" fill="none" stroke="#ff2a2a" stroke-width="0.7"/>
<polygon points="492.91,195.21 491.11,198.41 494.71,198.41" fill="none" stroke="#ff2a2a" stroke-width="0.7"/>
<polygon points="494.05,196.77 492.25,199.97 495.85,199.97" fill="none" stroke="#ff2a2a" stroke-width="0.7"/>
<polygon points="495.18,195.22 493.38,198.42 496.98,198.42" fill="none" stroke="#ff2a2a" stroke-width="0.7"/>
<polygon points="496.32,195.38 494.52,198.58 498.12,198.58" fill="none" stroke="#ff2a2a" stroke-width="0.7"/>
<polygon points="497.46,195.57 495.66,198.77 499.26,198.77" fill="none" stroke="#ff2a2a" stroke-width="0.7"/>
<polygon points="498.59,194.39 496.79,197.59 500.39,197.59" fill="none" stroke="#ff2a2a" stroke-width="0.7"/>
<polygon points="499.73,194.97 497.93,198.17 501.53,198.17" fill="none" stroke="#ff2a2a" stroke-width="0.7"/>
<polygon points="500.86,195.10 499.06,198.30 502.66,198.30" fill="none" stroke="#ff2a2a" stroke-width="0.7"/>
<polygon points="502.00,197.28 500.20,200.48 503.80,200.48" fill="none" stroke="#ff2a2a" stroke-width="0.7"/>
<polygon points="503.13,193.11 501.33,196.31 504.93,196.31" fill="none" stroke="#ff2a2a" stroke-width="0.7"/>
<polygon points="504.27,195.65 502.47,198.85 506.07,198.85" fill="none" stroke="#ff2a2a" stroke-width="0.7"/>
<polygon points="505.40,194.10 503.60,197.30 507.20,197.30" fill="none" stroke="#ff2a2a" stroke-width="0.7"/>
<polygon points="506.54,195.34 504.74,198.54 508.34,198.54" fill="none" stroke="#ff2a2a" stroke-width="0.7"/>
<polygon points="507.67,193.84 505.87,197.04 509.47,197.04" fill="none" stroke="#ff2a2a" stroke-width="0.7"/>
<polygon points="508.81,195.61 507.01,198.81 510.61,198.81" fill="none" stroke="#ff2a2a" stroke-width="0.7"/>
<polygon points="509.94,195.51 508.14,198.71 511.74,198.71" fill="none" stroke="#ff2a2a" stroke-width="0.7"/>
<polygon points="511.08,195.64 509.28,198.84 512.88,198.84" fill="none" stroke="#ff2a2a" stroke-width="0.7"/>
<polygon points="512.21,196.98 510.41,200.18 514.01,200.18" fill="none" stroke="#ff2a2a" stroke-width="0.7"/>
<polygon points="513.35,196.77 511.55,199.97 515.15,199.97" fill="none" stroke="#ff2a2a" stroke-width="0.7"/>
<polygon points="514.49,196.09 512.69,199.29 516.29,199.29" fill="none" stroke="#ff2a2a" stroke-width="0.7"/>
<polygon points="515.62,196.04 513.82,199.24 517.42,199.24" fill="none" stroke="#ff2a2a" stroke-width="0.7"/>
<polygon points="516.76,197.42 514.96,200.62 518.56,200.62" fill="none" stroke="#ff2a2a" stroke-width="0.7"/>
<polygon points="517.89,192.11 516.09,195.31 519.69,195.31" fill="none" stroke="#ff2a2a" stroke-width="0.7"/>
<polygon points="519.03,197.42 517.23,200.62 520.83,200.62" fill="none" stroke="#ff2a2a" stroke-width="0.7"/>
<polygon points="520.16,196.34 518.36,199.54 521.96,199.54" fill="none" stroke="#ff2a2a" stroke-width="0.7"/>
<polygon points="521.30,191.97 519.50,195.17 523.10,195.17" fill="none" stroke="#ff2a2a" stroke-width="0.7"/>
<polygon points="522.43,196.90 520.63,200.10 524.23,200.10" fill="none" stroke="#ff2a2a" stroke-width="0.7"/>
<polygon points="523.57,194.64 521.77,197.84 525.37,197.84" fill="none" stroke="#ff2a2a" stroke-width="0.7"/>
<polygon points="524.70,194.80 522.90,198.00 526.50,198.00" fill="none" stroke="#ff2a2a" stroke-width="0.7"/>
<polygon points="525.84,196.19 524.04,199.39 527.64,199.39" fill="none" stroke="#ff2a2a" stroke-width="0.7"/>
<polygon points="526.97,198.13 525.17,201.33 528.77,201.33" fill="none" stroke="#ff2a2a" stroke-width="0.7"/>
<polygon points="528.11,198.33 526.31,201.53 529.91,201.53" fill="none" stroke="#ff2a2a" stroke-width="0.7"/>
<polygon points="529.24,195.87 527.44,199.07 531.04,199.07" fill="none" stroke="#ff2a2a" stroke-width="0.7"/>
<polygon points="530.38,195.19 528.58,198.39 532.18,198.39" fill="none" stroke="#ff2a2a" stroke-width="0.7"/>
<polygon points="531.51,199.28 529.72,202.48 533.31,202.48" fill="none" stroke="#ff2a2a" stroke-width="0.7"/>
<path d="M406.06,195.50 L407.20,195.50 L408.33,195.50 L409.47,195.50 L410.60,195.50 L410.60,195.50 L410.87,221.00 L411.15,235.54 L411.42,243.73 L411.69,248.24 L411.97,250.63 L412.24,251.79 L412.51,252.24 L412.79,252.28 L413.06,252.09 L413.34,251.77 L413.61,251.37 L413.88,250.94 L414.16,250.48 L414.43,250.02 L414.70,249.55 L414.98,249.09 L415.25,248.63 L415.52,248.17 L415.80,247.72 L416.07,247.28 L416.34,246.84 L416.62,246.41 L416.89,245.99 L417.16,245.57 L417.44,245.16 L417.71,244.75 L417.99,244.35 L418.26,243.96 L418.53,243.57 L418.81,243.19 L419.08,242.81 L419.35,242.44 L419.63,242.07 L419.90,241.71 L420.17,241.36 L420.45,241.01 L420.72,240.66 L420.99,240.32 L421.27,239.99 L421.54,239.66 L421.81,239.33 L422.09,239.01 L422.36,238.70 L422.64,238.39 L422.91,238.08 L423.18,237.78 L423.46,237.48 L423.73,237.19 L424.00,236.90 L424.28,236.61 L424.55,236.33 L424.82,236.06 L425.10,235.79 L425.37,235.52 L425.64,235.25 L425.92,234.99 L426.19,234.74 L426.46,234.48 L426.74,234.23 L427.01,233.99 L427.29,233.75 L427.56,233.51 L427.83,233.27 L428.11,233.04 L428.38,232.81 L428.65,232.59 L428.93,232.37 L429.20,232.15 L429.47,231.93 L429.75,231.72 L430.02,231.51 L430.29,231.31 L430.57,231.11 L430.84,230.91 L431.11,230.71 L431.39,230.51 L431.66,230.32 L431.94,230.13 L432.21,229.95 L432.48,229.77 L432.76,229.59 L433.03,229.41 L433.30,229.23 L433.58,229.06 L433.85,228.89 L434.12,228.72 L434.40,228.56 L434.67,228.39 L434.94,228.23 L435.22,228.07 L435.49,227.92 L435.76,227.77 L436.04,227.61 L436.31,227.46 L436.59,227.32 L436.86,227.17 L437.13,227.03 L437.41,226.89 L437.68,226.75 L437.95,226.61 L438.23,226.48 L438.50,226.35 L438.77,226.21 L439.05,226.09 L439.32,225.96 L439.59,225.83 L439.87,225.71 L440.14,225.59 L440.41,225.47 L440.69,225.35 L440.96,225.23 L441.24,225.12 L441.51,225.00 L441.78,224.89 L442.06,224.78 L442.33,224.67 L442.60,224.56 L442.88,224.46 L443.15,224.35 L443.42,224.25 L443.70,224.15 L443.97,224.05 L444.24,223.95 L444.52,223.86 L444.79,223.76 L445.06,223.67 L445.34,223.57 L445.61,223.48 L445.89,223.39 L446.16,223.30 L446.43,223.21 L446.71,223.13 L446.98,223.04 L447.25,222.96 L447.53,222.88 L447.80,222.79 L448.07,222.71 L448.35,222.63 L448.62,222.55 L448.89,222.48 L449.17,222.40 L449.44,222.33 L449.71,222.25 L449.99,222.18 L450.26,222.11 L450.54,222.04 L450.81,221.97 L451.08,221.90 L451.36,221.83 L451.63,221.76 L451.90,221.69 L452.18,221.63 L452.45,221.56 L452.72,221.50 L453.00,221.44 L453.27,221.38 L453.54,221.31 L453.82,221.25 L454.09,221.20 L454.36,221.14 L454.64,221.08 L454.91,221.02 L455.19,220.97 L455.46,220.91 L455.73,220.86 L456.01,220.80 L456.28,220.75 L456.55,220.70 L456.83,220.64 L457.10,220.59 L457.37,220.54 L457.65,220.49 L457.92,220.44 L458.19,220.39 L458.47,220.35 L458.74,220.30 L459.01,220.25 L459.29,220.21 L459.56,220.16 L459.83,220.12 L460.11,220.07 L460.38,220.03 L460.66,219.99 L460.93,219.94 L461.20,219.90 L461.48,219.86 L461.75,219.82 L462.02,219.78 L462.30,219.74 L462.57,219.70 L462.84,219.66 L463.12,219.62 L463.39,219.59 L463.66,219.55 L463.94,219.51 L464.21,219.48 L464.48,219.44 L464.76,219.40 L465.03,219.37" fill="none" stroke="#2a3cff" stroke-width="1.5"/>
<path d="M470.01,204.45 L472.13,204.14 L474.25,203.86 L476.38,203.59 L478.50,203.34 L480.63,203.10 L482.75,202.89 L484.88,202.68 L487.00,202.49 L489.13,202.32 L491.25,202.15 L493.38,202.00 L495.50,201.86 L497.62,201.72 L499.75,201.60 L501.87,201.48 L504.00,201.38 L506.12,201.28 L508.25,201.18 L510.37,201.09 L512.50,201.01 L514.62,200.94 L516.74,200.87 L518.87,200.80 L520.99,200.74 L523.12,200.68 L525.24,200.63 L527.37,200.58 L529.49,200.53 L531.62,200.49" fill="none" stroke="#2a3cff" stroke-width="1.5"/>
<path d="M406.06,195.50 L407.20,195.50 L408.33,195.50 L409.47,195.50 L410.60,195.50 L410.60,195.50 L410.87,222.02 L411.15,236.87 L411.42,245.01 L411.69,249.30 L411.97,251.37 L412.24,252.18 L412.51,252.27 L412.79,251.95 L413.06,251.41 L413.34,250.74 L413.61,250.01 L413.88,249.25 L414.16,248.48 L414.43,247.71 L414.70,246.95 L414.98,246.20 L415.25,245.46 L415.52,244.73 L415.80,244.02 L416.07,243.32 L416.34,242.64 L416.62,241.97 L416.89,241.32 L417.16,240.67 L417.44,240.05 L417.71,239.43 L417.99,238.83 L418.26,238.23 L418.53,237.66 L418.81,237.09 L419.08,236.53 L419.35,235.99 L419.63,235.46 L419.90,234.93 L420.17,234.42 L420.45,233.92 L420.72,233.43 L420.99,232.95 L421.27,232.48 L421.54,232.02 L421.81,231.57 L422.09,231.13 L422.36,230.69 L422.64,230.27 L422.91,229.85 L423.18,229.45 L423.46,229.05 L423.73,228.66 L424.00,228.27 L424.28,227.90 L424.55,227.53 L424.82,227.17 L425.10,226.82 L425.37,226.48 L425.64,226.14 L425.92,225.81 L426.19,225.48 L426.46,225.16 L426.74,224.85 L427.01,224.55 L427.29,224.25 L427.56,223.96 L427.83,223.67 L428.11,223.39 L428.38,223.11 L428.65,222.84 L428.93,222.58 L429.20,222.32 L429.47,222.07 L429.75,221.82 L430.02,221.57 L430.29,221.34 L430.57,221.10 L430.84,220.87 L431.11,220.65 L431.39,220.43 L431.66,220.21 L431.94,220.00 L432.21,219.80 L432.48,219.59 L432.76,219.40 L433.03,219.20 L433.30,219.01 L433.58,218.82 L433.85,218.64 L434.12,218.46 L434.40,218.29 L434.67,218.11 L434.94,217.94 L435.22,217.78 L435.49,217.62 L435.76,217.46 L436.04,217.30 L436.31,217.15 L436.59,217.00 L436.86,216.85 L437.13,216.71 L437.41,216.57 L437.68,216.43 L437.95,216.30 L438.23,216.16 L438.50,216.04 L438.77,215.91 L439.05,215.78 L439.32,215.66 L439.59,215.54 L439.87,215.42 L440.14,215.31 L440.41,215.20 L440.69,215.08 L440.96,214.98 L441.24,214.87 L441.51,214.77 L441.78,214.66 L442.06,214.56 L442.33,214.46 L442.60,214.37 L442.88,214.27 L443.15,214.18 L443.42,214.09 L443.70,214.00 L443.97,213.91 L444.24,213.83 L444.52,213.74 L444.79,213.66 L445.06,213.58 L445.34,213.50 L445.61,213.42 L445.89,213.35 L446.16,213.27 L446.43,213.20 L446.71,213.13 L446.98,213.06 L447.25,212.99 L447.53,212.92 L447.80,212.85 L448.07,212.79 L448.35,212.72 L448.62,212.66 L448.89,212.60 L449.17,212.54 L449.44,212.48 L449.71,212.42 L449.99,212.37 L450.26,212.31 L450.54,212.25 L450.81,212.20 L451.08,212.15 L451.36,212.09 L451.63,212.04 L451.90,211.99 L452.18,211.94 L452.45,211.90 L452.72,211.85 L453.00,211.80 L453.27,211.76 L453.54,211.71 L453.82,211.67 L454.09,211.62 L454.36,211.58 L454.64,211.54 L454.91,211.50 L455.19,211.46 L455.46,211.42 L455.73,211.38 L456.01,211.34 L456.28,211.30 L456.55,211.27 L456.83,211.23 L457.10,211.20 L457.37,211.16 L457.65,211.13 L457.92,211.09 L458.19,211.06 L458.47,211.03 L458.74,211.00 L459.01,210.96 L459.29,210.93 L459.56,210.90 L459.83,210.87 L460.11,210.84 L460.38,210.81 L460.66,210.79 L460.93,210.76 L461.20,210.73 L461.48,210.70 L461.75,210.68 L462.02,210.65 L462.30,210.63 L462.57,210.60 L462.84,210.58 L463.12,210.55 L463.39,210.53 L463.66,210.50 L463.94,210.48 L464.21,210.46 L464.48,210.43 L464.76,210.41 L465.03,210.39" fill="none" stroke="#ff2a2a" stroke-width="1.5"/>
<path d="M470.01,197.86 L472.13,197.86 L474.25,197.86 L476.38,197.86 L478.50,197.86 L480.63,197.86 L482.75,197.86 L484.88,197.86 L487.00,197.86 L489.13,197.86 L491.25,197.86 L493.38,197.86 L495.50,197.86 L497.62,197.86 L499.75,197.86 L501.87,197.86 L504.00,197.86 L506.12,197.86 L508.25,197.86 L510.37,197.86 L512.50,197.86 L514.62,197.86 L516.74,197.86 L518.87,197.86 L520.99,197.86 L523.12,197.86 L525.24,197.86 L527.37,197.86 L529.49,197.86 L531.62,197.86" fill="none" stroke="#ff2a2a" stroke-width="1.5"/>
</svg>
</body></html>
